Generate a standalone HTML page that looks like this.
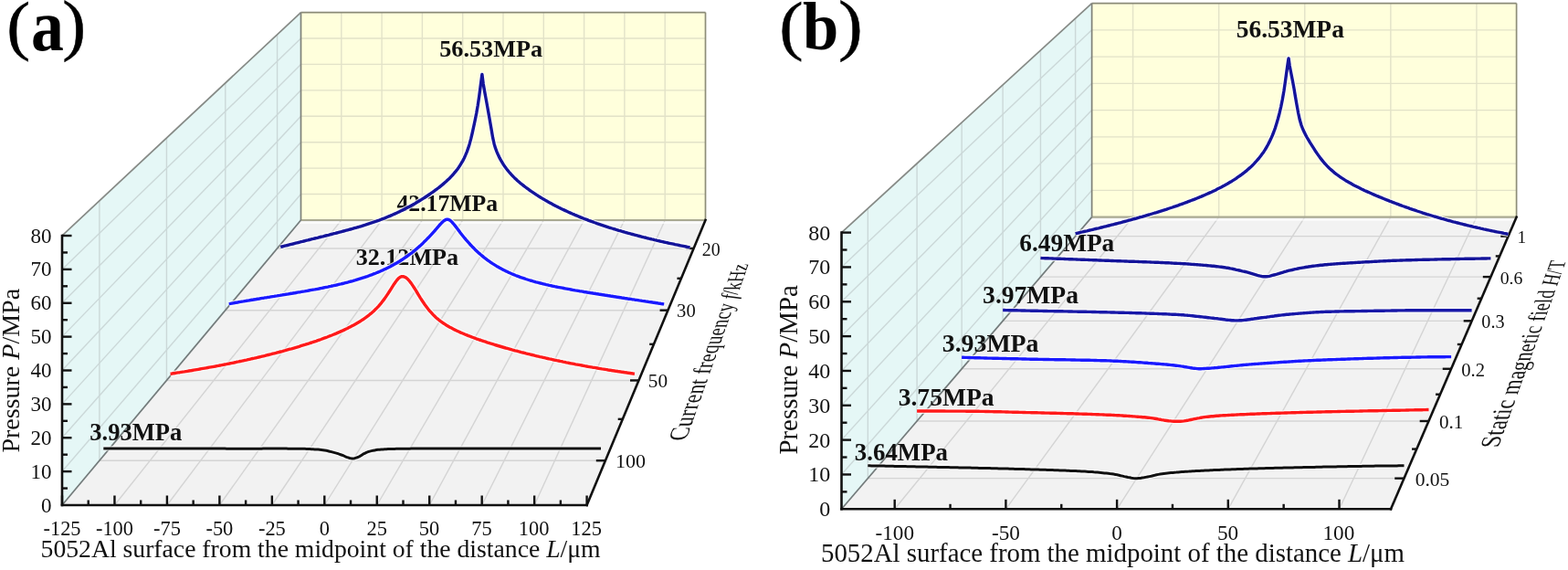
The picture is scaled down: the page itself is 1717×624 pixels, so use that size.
<!DOCTYPE html>
<html><head><meta charset="utf-8"><style>
html,body{margin:0;padding:0;background:#fff;}
svg{display:block;}
text{font-family:"Liberation Serif","Times New Roman",serif;}
</style></head><body>
<svg width="1717" height="624" viewBox="0 0 1717 624">
<rect width="1717" height="624" fill="#fff"/>
<polygon points="68,553 642.6,553 772.5,241 329.5,241" fill="#f2f2f2"/>
<polygon points="68,553 68,258 329.5,13.56 329.5,241" fill="#e5f7f6"/>
<polygon points="329.5,241 772.5,241 772.5,13.56 329.5,13.56" fill="#ffffdc"/>
<line x1="125.46" y1="553" x2="373.8" y2="241" stroke="#d4d4d4" stroke-width="1.4"/>
<line x1="373.8" y1="241" x2="373.8" y2="13.56" stroke="#e2e2c8" stroke-width="1.4"/>
<line x1="182.92" y1="553" x2="418.1" y2="241" stroke="#d4d4d4" stroke-width="1.4"/>
<line x1="418.1" y1="241" x2="418.1" y2="13.56" stroke="#e2e2c8" stroke-width="1.4"/>
<line x1="240.38" y1="553" x2="462.4" y2="241" stroke="#d4d4d4" stroke-width="1.4"/>
<line x1="462.4" y1="241" x2="462.4" y2="13.56" stroke="#e2e2c8" stroke-width="1.4"/>
<line x1="297.84" y1="553" x2="506.7" y2="241" stroke="#d4d4d4" stroke-width="1.4"/>
<line x1="506.7" y1="241" x2="506.7" y2="13.56" stroke="#e2e2c8" stroke-width="1.4"/>
<line x1="355.3" y1="553" x2="551" y2="241" stroke="#d4d4d4" stroke-width="1.4"/>
<line x1="551" y1="241" x2="551" y2="13.56" stroke="#e2e2c8" stroke-width="1.4"/>
<line x1="412.76" y1="553" x2="595.3" y2="241" stroke="#d4d4d4" stroke-width="1.4"/>
<line x1="595.3" y1="241" x2="595.3" y2="13.56" stroke="#e2e2c8" stroke-width="1.4"/>
<line x1="470.22" y1="553" x2="639.6" y2="241" stroke="#d4d4d4" stroke-width="1.4"/>
<line x1="639.6" y1="241" x2="639.6" y2="13.56" stroke="#e2e2c8" stroke-width="1.4"/>
<line x1="527.68" y1="553" x2="683.9" y2="241" stroke="#d4d4d4" stroke-width="1.4"/>
<line x1="683.9" y1="241" x2="683.9" y2="13.56" stroke="#e2e2c8" stroke-width="1.4"/>
<line x1="585.14" y1="553" x2="728.2" y2="241" stroke="#d4d4d4" stroke-width="1.4"/>
<line x1="728.2" y1="241" x2="728.2" y2="13.56" stroke="#e2e2c8" stroke-width="1.4"/>
<line x1="108.88" y1="504.23" x2="662.91" y2="504.23" stroke="#d4d4d4" stroke-width="1.4"/>
<line x1="108.88" y1="504.23" x2="108.88" y2="219.79" stroke="#cbd8d8" stroke-width="1.4"/>
<line x1="182.44" y1="416.45" x2="699.45" y2="416.45" stroke="#d4d4d4" stroke-width="1.4"/>
<line x1="182.44" y1="416.45" x2="182.44" y2="151.02" stroke="#cbd8d8" stroke-width="1.4"/>
<line x1="246.79" y1="339.68" x2="731.42" y2="339.68" stroke="#d4d4d4" stroke-width="1.4"/>
<line x1="246.79" y1="339.68" x2="246.79" y2="90.87" stroke="#cbd8d8" stroke-width="1.4"/>
<line x1="303.56" y1="271.95" x2="759.61" y2="271.95" stroke="#d4d4d4" stroke-width="1.4"/>
<line x1="303.56" y1="271.95" x2="303.56" y2="37.81" stroke="#cbd8d8" stroke-width="1.4"/>
<line x1="68" y1="516.13" x2="329.5" y2="212.57" stroke="#cbd8d8" stroke-width="1.4"/>
<line x1="329.5" y1="212.57" x2="772.5" y2="212.57" stroke="#e2e2c8" stroke-width="1.4"/>
<line x1="68" y1="479.25" x2="329.5" y2="184.14" stroke="#cbd8d8" stroke-width="1.4"/>
<line x1="329.5" y1="184.14" x2="772.5" y2="184.14" stroke="#e2e2c8" stroke-width="1.4"/>
<line x1="68" y1="442.38" x2="329.5" y2="155.71" stroke="#cbd8d8" stroke-width="1.4"/>
<line x1="329.5" y1="155.71" x2="772.5" y2="155.71" stroke="#e2e2c8" stroke-width="1.4"/>
<line x1="68" y1="405.5" x2="329.5" y2="127.28" stroke="#cbd8d8" stroke-width="1.4"/>
<line x1="329.5" y1="127.28" x2="772.5" y2="127.28" stroke="#e2e2c8" stroke-width="1.4"/>
<line x1="68" y1="368.63" x2="329.5" y2="98.85" stroke="#cbd8d8" stroke-width="1.4"/>
<line x1="329.5" y1="98.85" x2="772.5" y2="98.85" stroke="#e2e2c8" stroke-width="1.4"/>
<line x1="68" y1="331.75" x2="329.5" y2="70.42" stroke="#cbd8d8" stroke-width="1.4"/>
<line x1="329.5" y1="70.42" x2="772.5" y2="70.42" stroke="#e2e2c8" stroke-width="1.4"/>
<line x1="68" y1="294.88" x2="329.5" y2="41.99" stroke="#cbd8d8" stroke-width="1.4"/>
<line x1="329.5" y1="41.99" x2="772.5" y2="41.99" stroke="#e2e2c8" stroke-width="1.4"/>
<line x1="326.98" y1="244.01" x2="771.25" y2="244.01" stroke="#ffffff" stroke-width="2.2" stroke-opacity="0.7"/>
<line x1="68" y1="258" x2="329.5" y2="13.56" stroke="#868a86" stroke-width="1.7"/>
<line x1="329.5" y1="13.56" x2="772.5" y2="13.56" stroke="#8a8a78" stroke-width="1.7"/>
<line x1="772.5" y1="13.56" x2="772.5" y2="241" stroke="#8e8e78" stroke-width="1.7"/>
<line x1="329.5" y1="241" x2="772.5" y2="241" stroke="#aaaa92" stroke-width="2.2"/>
<line x1="329.5" y1="241" x2="329.5" y2="13.56" stroke="#7e8078" stroke-width="1.7"/>
<line x1="68" y1="553" x2="329.5" y2="241" stroke="#737b7b" stroke-width="1.7"/>
<line x1="68" y1="553" x2="642.6" y2="553" stroke="#111111" stroke-width="2.6" stroke-linecap="square"/>
<line x1="68" y1="553" x2="68" y2="258" stroke="#111111" stroke-width="2.6" stroke-linecap="square"/>
<line x1="642.6" y1="553" x2="772.5" y2="241" stroke="#111111" stroke-width="2.6" stroke-linecap="square"/>
<line x1="68" y1="534.56" x2="74" y2="534.56" stroke="#111111" stroke-width="2.4"/>
<line x1="68" y1="516.12" x2="78.5" y2="516.12" stroke="#111111" stroke-width="2.4"/>
<line x1="68" y1="497.69" x2="74" y2="497.69" stroke="#111111" stroke-width="2.4"/>
<line x1="68" y1="479.25" x2="78.5" y2="479.25" stroke="#111111" stroke-width="2.4"/>
<line x1="68" y1="460.81" x2="74" y2="460.81" stroke="#111111" stroke-width="2.4"/>
<line x1="68" y1="442.38" x2="78.5" y2="442.38" stroke="#111111" stroke-width="2.4"/>
<line x1="68" y1="423.94" x2="74" y2="423.94" stroke="#111111" stroke-width="2.4"/>
<line x1="68" y1="405.5" x2="78.5" y2="405.5" stroke="#111111" stroke-width="2.4"/>
<line x1="68" y1="387.06" x2="74" y2="387.06" stroke="#111111" stroke-width="2.4"/>
<line x1="68" y1="368.62" x2="78.5" y2="368.62" stroke="#111111" stroke-width="2.4"/>
<line x1="68" y1="350.19" x2="74" y2="350.19" stroke="#111111" stroke-width="2.4"/>
<line x1="68" y1="331.75" x2="78.5" y2="331.75" stroke="#111111" stroke-width="2.4"/>
<line x1="68" y1="313.31" x2="74" y2="313.31" stroke="#111111" stroke-width="2.4"/>
<line x1="68" y1="294.88" x2="78.5" y2="294.88" stroke="#111111" stroke-width="2.4"/>
<line x1="68" y1="276.44" x2="74" y2="276.44" stroke="#111111" stroke-width="2.4"/>
<line x1="68" y1="258" x2="78.5" y2="258" stroke="#111111" stroke-width="2.4"/>
<line x1="68" y1="553" x2="68" y2="542.5" stroke="#111111" stroke-width="2.4"/>
<line x1="125.46" y1="553" x2="125.46" y2="542.5" stroke="#111111" stroke-width="2.4"/>
<line x1="182.92" y1="553" x2="182.92" y2="542.5" stroke="#111111" stroke-width="2.4"/>
<line x1="240.38" y1="553" x2="240.38" y2="542.5" stroke="#111111" stroke-width="2.4"/>
<line x1="297.84" y1="553" x2="297.84" y2="542.5" stroke="#111111" stroke-width="2.4"/>
<line x1="355.3" y1="553" x2="355.3" y2="542.5" stroke="#111111" stroke-width="2.4"/>
<line x1="412.76" y1="553" x2="412.76" y2="542.5" stroke="#111111" stroke-width="2.4"/>
<line x1="470.22" y1="553" x2="470.22" y2="542.5" stroke="#111111" stroke-width="2.4"/>
<line x1="527.68" y1="553" x2="527.68" y2="542.5" stroke="#111111" stroke-width="2.4"/>
<line x1="585.14" y1="553" x2="585.14" y2="542.5" stroke="#111111" stroke-width="2.4"/>
<line x1="642.6" y1="553" x2="642.6" y2="542.5" stroke="#111111" stroke-width="2.4"/>
<line x1="96.73" y1="553" x2="96.73" y2="547.5" stroke="#111111" stroke-width="2.4"/>
<line x1="154.19" y1="553" x2="154.19" y2="547.5" stroke="#111111" stroke-width="2.4"/>
<line x1="211.65" y1="553" x2="211.65" y2="547.5" stroke="#111111" stroke-width="2.4"/>
<line x1="269.11" y1="553" x2="269.11" y2="547.5" stroke="#111111" stroke-width="2.4"/>
<line x1="326.57" y1="553" x2="326.57" y2="547.5" stroke="#111111" stroke-width="2.4"/>
<line x1="384.03" y1="553" x2="384.03" y2="547.5" stroke="#111111" stroke-width="2.4"/>
<line x1="441.49" y1="553" x2="441.49" y2="547.5" stroke="#111111" stroke-width="2.4"/>
<line x1="498.95" y1="553" x2="498.95" y2="547.5" stroke="#111111" stroke-width="2.4"/>
<line x1="556.41" y1="553" x2="556.41" y2="547.5" stroke="#111111" stroke-width="2.4"/>
<line x1="613.87" y1="553" x2="613.87" y2="547.5" stroke="#111111" stroke-width="2.4"/>
<line x1="662.91" y1="504.23" x2="652.78" y2="504.23" stroke="#111111" stroke-width="2.4"/>
<line x1="699.45" y1="416.45" x2="690" y2="416.45" stroke="#111111" stroke-width="2.4"/>
<line x1="731.42" y1="339.68" x2="722.56" y2="339.68" stroke="#111111" stroke-width="2.4"/>
<line x1="759.61" y1="271.95" x2="751.28" y2="271.95" stroke="#111111" stroke-width="2.4"/>
<line x1="681.81" y1="458.82" x2="676.69" y2="458.82" stroke="#111111" stroke-width="2.4"/>
<line x1="715.95" y1="376.83" x2="711.16" y2="376.83" stroke="#111111" stroke-width="2.4"/>
<line x1="745.94" y1="304.79" x2="741.44" y2="304.79" stroke="#111111" stroke-width="2.4"/>
<text x="45.02" y="560.59" font-size="23" fill="#111111">0</text>
<text x="33.52" y="523.72" font-size="23" fill="#111111">10</text>
<text x="33.52" y="486.84" font-size="23" fill="#111111">20</text>
<text x="33.52" y="449.96" font-size="23" fill="#111111">30</text>
<text x="33.52" y="413.09" font-size="23" fill="#111111">40</text>
<text x="33.52" y="376.21" font-size="23" fill="#111111">50</text>
<text x="33.52" y="339.34" font-size="23" fill="#111111">60</text>
<text x="33.52" y="302.46" font-size="23" fill="#111111">70</text>
<text x="33.52" y="265.59" font-size="23" fill="#111111">80</text>
<text x="47.5" y="586" font-size="22.4" fill="#111111">-125</text>
<text x="104.96" y="586" font-size="22.4" fill="#111111">-100</text>
<text x="168.02" y="586" font-size="22.4" fill="#111111">-75</text>
<text x="225.48" y="586" font-size="22.4" fill="#111111">-50</text>
<text x="282.94" y="586" font-size="22.4" fill="#111111">-25</text>
<text x="349.7" y="586" font-size="22.4" fill="#111111">0</text>
<text x="401.5" y="586" font-size="22.4" fill="#111111">25</text>
<text x="458.8" y="586" font-size="22.4" fill="#111111">50</text>
<text x="516.2" y="586" font-size="22.4" fill="#111111">75</text>
<text x="567.78" y="586" font-size="22.4" fill="#111111">100</text>
<text x="625.24" y="586" font-size="22.4" fill="#111111">125</text>
<text x="674" y="512.48" font-size="22" fill="#111111">100</text>
<text x="709.8" y="424.47" font-size="21.25" fill="#111111">50</text>
<text x="741.11" y="347.47" font-size="20.57" fill="#111111">30</text>
<text x="768.74" y="279.54" font-size="19.96" fill="#111111">20</text>
<text x="481.25" y="62.4" font-size="26.21" font-weight="bold" fill="#111111">56.53MPa</text>
<text x="434.41" y="230.5" font-size="25.73" font-weight="bold" fill="#111111">42.17MPa</text>
<text x="389.65" y="290.1" font-size="26.14" font-weight="bold" fill="#111111">32.12MPa</text>
<text x="98.34" y="482.4" font-size="26.56" font-weight="bold" fill="#111111">3.93MPa</text>
<path d="M307.2,270.4 308.7,270.0 310.2,269.6 311.7,269.2 313.2,268.8 314.7,268.5 316.2,268.1 317.7,267.7 319.2,267.3 320.7,267.0 322.2,266.6 323.7,266.2 325.2,265.8 326.7,265.5 328.2,265.1 329.7,264.7 331.2,264.4 332.7,264.0 334.2,263.6 335.7,263.2 337.2,262.9 338.7,262.5 340.2,262.1 341.7,261.7 343.2,261.4 344.7,261.0 346.2,260.6 347.7,260.3 349.2,259.9 350.7,259.5 352.2,259.1 353.7,258.8 355.2,258.4 356.7,258.0 358.2,257.6 359.7,257.3 361.2,256.9 362.7,256.5 364.2,256.1 365.7,255.7 367.2,255.4 368.7,255.0 370.2,254.6 371.7,254.2 373.2,253.8 374.7,253.4 376.2,253.0 377.7,252.6 379.2,252.2 380.7,251.8 382.2,251.4 383.7,251.0 385.2,250.6 386.7,250.2 388.2,249.7 389.7,249.3 391.2,248.9 392.7,248.5 394.2,248.0 395.7,247.6 397.2,247.1 398.7,246.6 400.2,246.2 401.7,245.7 403.2,245.2 404.7,244.7 406.2,244.2 407.7,243.7 409.2,243.2 410.7,242.7 412.2,242.2 413.7,241.6 415.2,241.1 416.7,240.5 418.2,239.9 419.7,239.3 421.2,238.8 422.7,238.2 424.2,237.5 425.7,236.9 427.2,236.3 428.7,235.7 430.2,235.0 431.7,234.3 433.2,233.7 434.7,233.0 436.2,232.3 437.7,231.6 439.2,230.8 440.7,230.1 442.2,229.4 443.7,228.6 445.2,227.8 446.7,227.0 448.2,226.2 449.7,225.4 451.2,224.6 452.7,223.7 454.2,222.9 455.7,222.0 457.2,221.1 458.7,220.2 460.2,219.3 461.7,218.4 463.2,217.4 464.7,216.5 466.2,215.5 467.7,214.5 469.2,213.5 470.7,212.5 472.2,211.4 473.7,210.4 475.2,209.3 476.7,208.2 478.2,207.1 479.7,206.0 481.2,204.8 482.7,203.6 484.2,202.4 485.7,201.1 487.2,199.8 488.7,198.5 490.2,197.1 491.7,195.7 493.2,194.2 494.7,192.6 496.2,191.0 497.7,189.2 499.2,187.4 500.7,185.5 502.2,183.4 503.7,181.1 505.2,178.7 506.7,176.1 508.2,173.2 509.7,169.9 511.2,166.3 512.7,162.2 514.2,157.4 515.7,151.9 517.2,145.5 518.7,138.6 520.2,131.6 521.7,124.1 523.2,115.5 524.7,105.4 526.2,94.0 527.7,82.8 527.9,81.5 529.2,91.7 530.7,100.4 532.2,108.5 533.7,116.7 535.2,125.1 536.7,133.7 538.2,142.4 539.6,150.7 541.1,157.4 542.6,162.4 544.1,166.3 545.6,169.8 547.1,172.9 548.6,175.7 550.1,178.2 551.6,180.6 553.1,182.8 554.6,184.8 556.1,186.7 557.6,188.5 559.1,190.2 560.6,191.8 562.1,193.4 563.6,194.9 565.1,196.3 566.6,197.7 568.1,199.0 569.6,200.3 571.1,201.5 572.6,202.7 574.1,203.9 575.6,205.0 577.1,206.1 578.6,207.2 580.1,208.3 581.6,209.4 583.1,210.4 584.6,211.4 586.1,212.4 587.6,213.4 589.1,214.3 590.6,215.3 592.1,216.2 593.6,217.1 595.1,218.0 596.6,218.9 598.1,219.8 599.6,220.6 601.1,221.5 602.6,222.3 604.1,223.1 605.6,223.9 607.1,224.7 608.6,225.5 610.1,226.2 611.6,227.0 613.1,227.7 614.6,228.5 616.1,229.2 617.6,229.9 619.1,230.6 620.6,231.3 622.1,232.0 623.6,232.7 625.1,233.3 626.6,234.0 628.1,234.6 629.6,235.3 631.1,235.9 632.6,236.5 634.1,237.2 635.6,237.8 637.1,238.4 638.6,239.0 640.1,239.6 641.6,240.1 643.1,240.7 644.6,241.3 646.1,241.8 647.6,242.4 649.1,242.9 650.6,243.5 652.1,244.0 653.6,244.6 655.1,245.1 656.6,245.6 658.1,246.1 659.6,246.6 661.1,247.1 662.6,247.6 664.1,248.1 665.6,248.6 667.1,249.1 668.6,249.5 670.1,250.0 671.6,250.5 673.1,250.9 674.6,251.4 676.1,251.8 677.6,252.3 679.1,252.7 680.6,253.2 682.1,253.6 683.6,254.0 685.1,254.5 686.6,254.9 688.1,255.3 689.6,255.7 691.1,256.1 692.6,256.5 694.1,256.9 695.6,257.3 697.1,257.7 698.6,258.1 700.1,258.5 701.6,258.9 703.1,259.3 704.6,259.7 706.1,260.0 707.6,260.4 709.1,260.8 710.6,261.2 712.1,261.5 713.6,261.9 715.1,262.2 716.6,262.6 718.1,262.9 719.6,263.3 721.1,263.6 722.6,264.0 724.1,264.3 725.6,264.6 727.1,265.0 728.6,265.3 730.1,265.6 731.6,266.0 733.1,266.3 734.6,266.6 736.1,266.9 737.6,267.2 739.1,267.6 740.6,267.9 742.1,268.2 743.6,268.5 745.1,268.8 746.6,269.1 748.1,269.4 749.6,269.7 751.1,270.0 752.6,270.3 754.1,270.6 755.6,270.9" fill="none" stroke="#ffffff" stroke-opacity="0.75" stroke-width="5.8" stroke-linejoin="round"/>
<path d="M307.2,270.4 308.7,270.0 310.2,269.6 311.7,269.2 313.2,268.8 314.7,268.5 316.2,268.1 317.7,267.7 319.2,267.3 320.7,267.0 322.2,266.6 323.7,266.2 325.2,265.8 326.7,265.5 328.2,265.1 329.7,264.7 331.2,264.4 332.7,264.0 334.2,263.6 335.7,263.2 337.2,262.9 338.7,262.5 340.2,262.1 341.7,261.7 343.2,261.4 344.7,261.0 346.2,260.6 347.7,260.3 349.2,259.9 350.7,259.5 352.2,259.1 353.7,258.8 355.2,258.4 356.7,258.0 358.2,257.6 359.7,257.3 361.2,256.9 362.7,256.5 364.2,256.1 365.7,255.7 367.2,255.4 368.7,255.0 370.2,254.6 371.7,254.2 373.2,253.8 374.7,253.4 376.2,253.0 377.7,252.6 379.2,252.2 380.7,251.8 382.2,251.4 383.7,251.0 385.2,250.6 386.7,250.2 388.2,249.7 389.7,249.3 391.2,248.9 392.7,248.5 394.2,248.0 395.7,247.6 397.2,247.1 398.7,246.6 400.2,246.2 401.7,245.7 403.2,245.2 404.7,244.7 406.2,244.2 407.7,243.7 409.2,243.2 410.7,242.7 412.2,242.2 413.7,241.6 415.2,241.1 416.7,240.5 418.2,239.9 419.7,239.3 421.2,238.8 422.7,238.2 424.2,237.5 425.7,236.9 427.2,236.3 428.7,235.7 430.2,235.0 431.7,234.3 433.2,233.7 434.7,233.0 436.2,232.3 437.7,231.6 439.2,230.8 440.7,230.1 442.2,229.4 443.7,228.6 445.2,227.8 446.7,227.0 448.2,226.2 449.7,225.4 451.2,224.6 452.7,223.7 454.2,222.9 455.7,222.0 457.2,221.1 458.7,220.2 460.2,219.3 461.7,218.4 463.2,217.4 464.7,216.5 466.2,215.5 467.7,214.5 469.2,213.5 470.7,212.5 472.2,211.4 473.7,210.4 475.2,209.3 476.7,208.2 478.2,207.1 479.7,206.0 481.2,204.8 482.7,203.6 484.2,202.4 485.7,201.1 487.2,199.8 488.7,198.5 490.2,197.1 491.7,195.7 493.2,194.2 494.7,192.6 496.2,191.0 497.7,189.2 499.2,187.4 500.7,185.5 502.2,183.4 503.7,181.1 505.2,178.7 506.7,176.1 508.2,173.2 509.7,169.9 511.2,166.3 512.7,162.2 514.2,157.4 515.7,151.9 517.2,145.5 518.7,138.6 520.2,131.6 521.7,124.1 523.2,115.5 524.7,105.4 526.2,94.0 527.7,82.8 527.9,81.5 529.2,91.7 530.7,100.4 532.2,108.5 533.7,116.7 535.2,125.1 536.7,133.7 538.2,142.4 539.6,150.7 541.1,157.4 542.6,162.4 544.1,166.3 545.6,169.8 547.1,172.9 548.6,175.7 550.1,178.2 551.6,180.6 553.1,182.8 554.6,184.8 556.1,186.7 557.6,188.5 559.1,190.2 560.6,191.8 562.1,193.4 563.6,194.9 565.1,196.3 566.6,197.7 568.1,199.0 569.6,200.3 571.1,201.5 572.6,202.7 574.1,203.9 575.6,205.0 577.1,206.1 578.6,207.2 580.1,208.3 581.6,209.4 583.1,210.4 584.6,211.4 586.1,212.4 587.6,213.4 589.1,214.3 590.6,215.3 592.1,216.2 593.6,217.1 595.1,218.0 596.6,218.9 598.1,219.8 599.6,220.6 601.1,221.5 602.6,222.3 604.1,223.1 605.6,223.9 607.1,224.7 608.6,225.5 610.1,226.2 611.6,227.0 613.1,227.7 614.6,228.5 616.1,229.2 617.6,229.9 619.1,230.6 620.6,231.3 622.1,232.0 623.6,232.7 625.1,233.3 626.6,234.0 628.1,234.6 629.6,235.3 631.1,235.9 632.6,236.5 634.1,237.2 635.6,237.8 637.1,238.4 638.6,239.0 640.1,239.6 641.6,240.1 643.1,240.7 644.6,241.3 646.1,241.8 647.6,242.4 649.1,242.9 650.6,243.5 652.1,244.0 653.6,244.6 655.1,245.1 656.6,245.6 658.1,246.1 659.6,246.6 661.1,247.1 662.6,247.6 664.1,248.1 665.6,248.6 667.1,249.1 668.6,249.5 670.1,250.0 671.6,250.5 673.1,250.9 674.6,251.4 676.1,251.8 677.6,252.3 679.1,252.7 680.6,253.2 682.1,253.6 683.6,254.0 685.1,254.5 686.6,254.9 688.1,255.3 689.6,255.7 691.1,256.1 692.6,256.5 694.1,256.9 695.6,257.3 697.1,257.7 698.6,258.1 700.1,258.5 701.6,258.9 703.1,259.3 704.6,259.7 706.1,260.0 707.6,260.4 709.1,260.8 710.6,261.2 712.1,261.5 713.6,261.9 715.1,262.2 716.6,262.6 718.1,262.9 719.6,263.3 721.1,263.6 722.6,264.0 724.1,264.3 725.6,264.6 727.1,265.0 728.6,265.3 730.1,265.6 731.6,266.0 733.1,266.3 734.6,266.6 736.1,266.9 737.6,267.2 739.1,267.6 740.6,267.9 742.1,268.2 743.6,268.5 745.1,268.8 746.6,269.1 748.1,269.4 749.6,269.7 751.1,270.0 752.6,270.3 754.1,270.6 755.6,270.9" fill="none" stroke="#14149a" stroke-width="3.4" stroke-linejoin="round"/>
<path d="M250.7,332.6 252.3,332.4 253.9,332.1 255.5,331.8 257.0,331.5 258.6,331.2 260.2,331.0 261.8,330.7 263.4,330.4 265.0,330.1 266.6,329.9 268.2,329.6 269.8,329.3 271.4,329.1 273.0,328.8 274.6,328.5 276.2,328.3 277.8,328.0 279.4,327.8 280.9,327.5 282.5,327.2 284.1,327.0 285.7,326.7 287.3,326.4 288.9,326.2 290.5,325.9 292.1,325.7 293.7,325.4 295.3,325.2 296.9,324.9 298.5,324.6 300.1,324.4 301.7,324.1 303.3,323.9 304.9,323.6 306.4,323.4 308.0,323.1 309.6,322.8 311.2,322.6 312.8,322.3 314.4,322.1 316.0,321.8 317.6,321.5 319.2,321.3 320.8,321.0 322.4,320.8 324.0,320.5 325.6,320.2 327.2,319.9 328.8,319.7 330.3,319.4 331.9,319.1 333.5,318.9 335.1,318.6 336.7,318.3 338.3,318.0 339.9,317.7 341.5,317.4 343.1,317.1 344.7,316.9 346.3,316.6 347.9,316.3 349.5,316.0 351.1,315.6 352.7,315.3 354.3,315.0 355.8,314.7 357.4,314.4 359.0,314.1 360.6,313.7 362.2,313.4 363.8,313.0 365.4,312.7 367.0,312.3 368.6,312.0 370.2,311.6 371.8,311.2 373.4,310.9 375.0,310.5 376.6,310.1 378.2,309.7 379.8,309.3 381.3,308.9 382.9,308.4 384.5,308.0 386.1,307.6 387.7,307.1 389.3,306.7 390.9,306.2 392.5,305.7 394.1,305.2 395.7,304.7 397.3,304.2 398.9,303.7 400.5,303.1 402.1,302.6 403.7,302.0 405.2,301.4 406.8,300.9 408.4,300.2 410.0,299.6 411.6,299.0 413.2,298.3 414.8,297.7 416.4,297.0 418.0,296.3 419.6,295.6 421.2,294.8 422.8,294.1 424.4,293.3 426.0,292.5 427.6,291.7 429.2,290.8 430.7,290.0 432.3,289.1 433.9,288.2 435.5,287.2 437.1,286.3 438.7,285.3 440.3,284.3 441.9,283.2 443.5,282.1 445.1,281.0 446.7,279.9 448.3,278.7 449.9,277.5 451.5,276.3 453.1,275.0 454.6,273.7 456.2,272.4 457.8,271.0 459.4,269.6 461.0,268.2 462.6,266.7 464.2,265.1 465.8,263.6 467.4,261.9 469.0,260.3 470.6,258.6 472.2,256.9 473.8,255.1 475.4,253.3 477.0,251.5 478.6,249.6 480.1,247.8 481.7,246.0 483.3,244.3 484.9,242.7 486.5,241.4 488.1,240.5 489.7,240.1 489.9,240.1 491.3,240.4 492.9,241.3 494.5,242.7 496.1,244.5 497.7,246.4 499.3,248.4 500.9,250.5 502.5,252.6 504.0,254.7 505.6,256.7 507.2,258.7 508.8,260.7 510.4,262.6 512.0,264.4 513.6,266.2 515.2,268.0 516.8,269.7 518.4,271.3 520.0,272.9 521.6,274.4 523.2,275.9 524.8,277.4 526.4,278.8 528.0,280.1 529.5,281.4 531.1,282.7 532.7,283.9 534.3,285.1 535.9,286.2 537.5,287.3 539.1,288.4 540.7,289.4 542.3,290.4 543.9,291.4 545.5,292.3 547.1,293.2 548.7,294.1 550.3,294.9 551.9,295.8 553.5,296.6 555.0,297.3 556.6,298.1 558.2,298.8 559.8,299.5 561.4,300.2 563.0,300.8 564.6,301.5 566.2,302.1 567.8,302.7 569.4,303.3 571.0,303.9 572.6,304.4 574.2,304.9 575.8,305.5 577.4,306.0 578.9,306.5 580.5,307.0 582.1,307.4 583.7,307.9 585.3,308.3 586.9,308.8 588.5,309.2 590.1,309.6 591.7,310.0 593.3,310.4 594.9,310.8 596.5,311.2 598.1,311.6 599.7,311.9 601.3,312.3 602.9,312.6 604.4,313.0 606.0,313.3 607.6,313.7 609.2,314.0 610.8,314.3 612.4,314.6 614.0,314.9 615.6,315.2 617.2,315.5 618.8,315.8 620.4,316.1 622.0,316.4 623.6,316.7 625.2,317.0 626.8,317.3 628.3,317.6 629.9,317.9 631.5,318.1 633.1,318.4 634.7,318.7 636.3,318.9 637.9,319.2 639.5,319.5 641.1,319.7 642.7,320.0 644.3,320.3 645.9,320.5 647.5,320.8 649.1,321.0 650.7,321.3 652.3,321.5 653.8,321.8 655.4,322.0 657.0,322.3 658.6,322.5 660.2,322.8 661.8,323.0 663.4,323.3 665.0,323.5 666.6,323.8 668.2,324.0 669.8,324.3 671.4,324.5 673.0,324.8 674.6,325.0 676.2,325.3 677.7,325.5 679.3,325.7 680.9,326.0 682.5,326.2 684.1,326.5 685.7,326.7 687.3,327.0 688.9,327.2 690.5,327.4 692.1,327.7 693.7,327.9 695.3,328.2 696.9,328.4 698.5,328.6 700.1,328.9 701.7,329.1 703.2,329.4 704.8,329.6 706.4,329.8 708.0,330.1 709.6,330.3 711.2,330.6 712.8,330.8 714.4,331.0 716.0,331.3 717.6,331.5 719.2,331.7 720.8,332.0 722.4,332.2 724.0,332.5 725.6,332.7 727.2,332.9" fill="none" stroke="#ffffff" stroke-opacity="0.75" stroke-width="5.8" stroke-linejoin="round"/>
<path d="M250.7,332.6 252.3,332.4 253.9,332.1 255.5,331.8 257.0,331.5 258.6,331.2 260.2,331.0 261.8,330.7 263.4,330.4 265.0,330.1 266.6,329.9 268.2,329.6 269.8,329.3 271.4,329.1 273.0,328.8 274.6,328.5 276.2,328.3 277.8,328.0 279.4,327.8 280.9,327.5 282.5,327.2 284.1,327.0 285.7,326.7 287.3,326.4 288.9,326.2 290.5,325.9 292.1,325.7 293.7,325.4 295.3,325.2 296.9,324.9 298.5,324.6 300.1,324.4 301.7,324.1 303.3,323.9 304.9,323.6 306.4,323.4 308.0,323.1 309.6,322.8 311.2,322.6 312.8,322.3 314.4,322.1 316.0,321.8 317.6,321.5 319.2,321.3 320.8,321.0 322.4,320.8 324.0,320.5 325.6,320.2 327.2,319.9 328.8,319.7 330.3,319.4 331.9,319.1 333.5,318.9 335.1,318.6 336.7,318.3 338.3,318.0 339.9,317.7 341.5,317.4 343.1,317.1 344.7,316.9 346.3,316.6 347.9,316.3 349.5,316.0 351.1,315.6 352.7,315.3 354.3,315.0 355.8,314.7 357.4,314.4 359.0,314.1 360.6,313.7 362.2,313.4 363.8,313.0 365.4,312.7 367.0,312.3 368.6,312.0 370.2,311.6 371.8,311.2 373.4,310.9 375.0,310.5 376.6,310.1 378.2,309.7 379.8,309.3 381.3,308.9 382.9,308.4 384.5,308.0 386.1,307.6 387.7,307.1 389.3,306.7 390.9,306.2 392.5,305.7 394.1,305.2 395.7,304.7 397.3,304.2 398.9,303.7 400.5,303.1 402.1,302.6 403.7,302.0 405.2,301.4 406.8,300.9 408.4,300.2 410.0,299.6 411.6,299.0 413.2,298.3 414.8,297.7 416.4,297.0 418.0,296.3 419.6,295.6 421.2,294.8 422.8,294.1 424.4,293.3 426.0,292.5 427.6,291.7 429.2,290.8 430.7,290.0 432.3,289.1 433.9,288.2 435.5,287.2 437.1,286.3 438.7,285.3 440.3,284.3 441.9,283.2 443.5,282.1 445.1,281.0 446.7,279.9 448.3,278.7 449.9,277.5 451.5,276.3 453.1,275.0 454.6,273.7 456.2,272.4 457.8,271.0 459.4,269.6 461.0,268.2 462.6,266.7 464.2,265.1 465.8,263.6 467.4,261.9 469.0,260.3 470.6,258.6 472.2,256.9 473.8,255.1 475.4,253.3 477.0,251.5 478.6,249.6 480.1,247.8 481.7,246.0 483.3,244.3 484.9,242.7 486.5,241.4 488.1,240.5 489.7,240.1 489.9,240.1 491.3,240.4 492.9,241.3 494.5,242.7 496.1,244.5 497.7,246.4 499.3,248.4 500.9,250.5 502.5,252.6 504.0,254.7 505.6,256.7 507.2,258.7 508.8,260.7 510.4,262.6 512.0,264.4 513.6,266.2 515.2,268.0 516.8,269.7 518.4,271.3 520.0,272.9 521.6,274.4 523.2,275.9 524.8,277.4 526.4,278.8 528.0,280.1 529.5,281.4 531.1,282.7 532.7,283.9 534.3,285.1 535.9,286.2 537.5,287.3 539.1,288.4 540.7,289.4 542.3,290.4 543.9,291.4 545.5,292.3 547.1,293.2 548.7,294.1 550.3,294.9 551.9,295.8 553.5,296.6 555.0,297.3 556.6,298.1 558.2,298.8 559.8,299.5 561.4,300.2 563.0,300.8 564.6,301.5 566.2,302.1 567.8,302.7 569.4,303.3 571.0,303.9 572.6,304.4 574.2,304.9 575.8,305.5 577.4,306.0 578.9,306.5 580.5,307.0 582.1,307.4 583.7,307.9 585.3,308.3 586.9,308.8 588.5,309.2 590.1,309.6 591.7,310.0 593.3,310.4 594.9,310.8 596.5,311.2 598.1,311.6 599.7,311.9 601.3,312.3 602.9,312.6 604.4,313.0 606.0,313.3 607.6,313.7 609.2,314.0 610.8,314.3 612.4,314.6 614.0,314.9 615.6,315.2 617.2,315.5 618.8,315.8 620.4,316.1 622.0,316.4 623.6,316.7 625.2,317.0 626.8,317.3 628.3,317.6 629.9,317.9 631.5,318.1 633.1,318.4 634.7,318.7 636.3,318.9 637.9,319.2 639.5,319.5 641.1,319.7 642.7,320.0 644.3,320.3 645.9,320.5 647.5,320.8 649.1,321.0 650.7,321.3 652.3,321.5 653.8,321.8 655.4,322.0 657.0,322.3 658.6,322.5 660.2,322.8 661.8,323.0 663.4,323.3 665.0,323.5 666.6,323.8 668.2,324.0 669.8,324.3 671.4,324.5 673.0,324.8 674.6,325.0 676.2,325.3 677.7,325.5 679.3,325.7 680.9,326.0 682.5,326.2 684.1,326.5 685.7,326.7 687.3,327.0 688.9,327.2 690.5,327.4 692.1,327.7 693.7,327.9 695.3,328.2 696.9,328.4 698.5,328.6 700.1,328.9 701.7,329.1 703.2,329.4 704.8,329.6 706.4,329.8 708.0,330.1 709.6,330.3 711.2,330.6 712.8,330.8 714.4,331.0 716.0,331.3 717.6,331.5 719.2,331.7 720.8,332.0 722.4,332.2 724.0,332.5 725.6,332.7 727.2,332.9" fill="none" stroke="#1a1aff" stroke-width="3.4" stroke-linejoin="round"/>
<path d="M186.6,409.2 188.3,409.0 190.0,408.7 191.7,408.5 193.4,408.2 195.1,407.9 196.8,407.7 198.5,407.4 200.2,407.1 201.9,406.9 203.6,406.6 205.3,406.3 207.0,406.0 208.7,405.8 210.4,405.5 212.1,405.2 213.8,404.9 215.5,404.6 217.2,404.3 218.9,404.0 220.6,403.7 222.3,403.4 224.0,403.1 225.7,402.8 227.4,402.5 229.1,402.2 230.8,401.9 232.5,401.6 234.2,401.3 235.9,401.0 237.6,400.6 239.3,400.3 241.0,400.0 242.7,399.7 244.4,399.3 246.1,399.0 247.8,398.7 249.5,398.3 251.2,398.0 252.9,397.6 254.6,397.3 256.3,397.0 258.0,396.6 259.7,396.2 261.4,395.9 263.1,395.5 264.8,395.2 266.5,394.8 268.2,394.4 269.9,394.1 271.6,393.7 273.3,393.3 275.0,392.9 276.7,392.5 278.4,392.2 280.1,391.8 281.8,391.4 283.5,391.0 285.2,390.6 286.9,390.2 288.6,389.8 290.3,389.4 292.0,388.9 293.7,388.5 295.4,388.1 297.1,387.7 298.8,387.2 300.5,386.8 302.2,386.4 303.9,385.9 305.6,385.5 307.3,385.0 309.0,384.6 310.7,384.1 312.4,383.7 314.1,383.2 315.8,382.7 317.5,382.2 319.2,381.8 320.9,381.3 322.6,380.8 324.3,380.3 326.0,379.8 327.7,379.3 329.4,378.7 331.1,378.2 332.8,377.7 334.5,377.2 336.2,376.6 337.9,376.1 339.6,375.5 341.3,375.0 343.0,374.4 344.7,373.8 346.4,373.3 348.1,372.7 349.8,372.1 351.5,371.5 353.2,370.8 354.9,370.2 356.6,369.6 358.3,369.0 360.0,368.3 361.7,367.6 363.4,367.0 365.1,366.3 366.8,365.6 368.5,364.9 370.2,364.1 371.9,363.4 373.6,362.6 375.3,361.9 377.0,361.1 378.7,360.3 380.4,359.5 382.1,358.6 383.8,357.7 385.5,356.8 387.2,355.9 388.9,355.0 390.6,354.0 392.3,353.0 394.0,352.0 395.7,350.9 397.4,349.8 399.1,348.6 400.8,347.4 402.5,346.1 404.2,344.8 405.9,343.4 407.6,341.9 409.3,340.4 411.0,338.8 412.7,337.1 414.4,335.3 416.1,333.3 417.8,331.3 419.5,329.1 421.2,326.9 422.9,324.4 424.6,321.9 426.3,319.3 428.0,316.6 429.7,313.9 431.4,311.2 433.1,308.7 434.8,306.5 436.5,304.6 438.2,303.3 439.9,302.7 440.6,302.6 441.6,302.7 443.3,303.3 445.0,304.3 446.7,305.8 448.4,307.7 450.1,309.9 451.8,312.4 453.5,315.0 455.2,317.7 456.9,320.5 458.6,323.3 460.3,326.1 462.0,328.7 463.7,331.3 465.4,333.8 467.1,336.1 468.8,338.3 470.5,340.3 472.2,342.2 473.9,344.1 475.6,345.8 477.3,347.4 479.0,348.9 480.7,350.3 482.4,351.6 484.1,352.8 485.8,354.0 487.5,355.1 489.2,356.2 490.9,357.2 492.6,358.2 494.3,359.1 496.0,360.0 497.7,360.9 499.4,361.7 501.1,362.5 502.8,363.3 504.5,364.1 506.2,364.8 507.9,365.5 509.6,366.2 511.3,366.9 513.0,367.6 514.7,368.2 516.4,368.9 518.1,369.5 519.8,370.1 521.5,370.8 523.2,371.4 524.9,372.0 526.6,372.5 528.3,373.1 530.0,373.7 531.7,374.2 533.4,374.8 535.1,375.3 536.8,375.9 538.5,376.4 540.2,376.9 541.9,377.5 543.6,378.0 545.3,378.5 547.0,379.0 548.7,379.5 550.4,380.0 552.1,380.5 553.8,381.0 555.5,381.4 557.2,381.9 558.9,382.4 560.6,382.9 562.3,383.3 564.0,383.8 565.7,384.2 567.4,384.7 569.1,385.1 570.8,385.6 572.5,386.0 574.2,386.4 575.9,386.9 577.6,387.3 579.3,387.7 581.0,388.1 582.7,388.5 584.4,388.9 586.1,389.4 587.8,389.8 589.5,390.2 591.2,390.6 592.9,390.9 594.6,391.3 596.3,391.7 598.0,392.1 599.7,392.5 601.4,392.9 603.1,393.2 604.8,393.6 606.5,394.0 608.2,394.3 609.9,394.7 611.6,395.0 613.3,395.4 615.0,395.7 616.7,396.1 618.4,396.4 620.1,396.8 621.8,397.1 623.5,397.5 625.2,397.8 626.9,398.1 628.6,398.4 630.3,398.8 632.0,399.1 633.7,399.4 635.4,399.7 637.1,400.0 638.8,400.3 640.5,400.7 642.2,401.0 643.9,401.3 645.6,401.6 647.3,401.9 649.0,402.2 650.7,402.4 652.4,402.7 654.1,403.0 655.8,403.3 657.5,403.6 659.2,403.9 660.9,404.1 662.6,404.4 664.3,404.7 666.0,405.0 667.7,405.2 669.4,405.5 671.1,405.8 672.8,406.0 674.5,406.3 676.2,406.5 677.9,406.8 679.6,407.0 681.3,407.3 683.0,407.5 684.7,407.8 686.4,408.0 688.1,408.3 689.8,408.5 691.5,408.7 693.2,409.0 694.9,409.2" fill="none" stroke="#ffffff" stroke-opacity="0.75" stroke-width="5.8" stroke-linejoin="round"/>
<path d="M186.6,409.2 188.3,409.0 190.0,408.7 191.7,408.5 193.4,408.2 195.1,407.9 196.8,407.7 198.5,407.4 200.2,407.1 201.9,406.9 203.6,406.6 205.3,406.3 207.0,406.0 208.7,405.8 210.4,405.5 212.1,405.2 213.8,404.9 215.5,404.6 217.2,404.3 218.9,404.0 220.6,403.7 222.3,403.4 224.0,403.1 225.7,402.8 227.4,402.5 229.1,402.2 230.8,401.9 232.5,401.6 234.2,401.3 235.9,401.0 237.6,400.6 239.3,400.3 241.0,400.0 242.7,399.7 244.4,399.3 246.1,399.0 247.8,398.7 249.5,398.3 251.2,398.0 252.9,397.6 254.6,397.3 256.3,397.0 258.0,396.6 259.7,396.2 261.4,395.9 263.1,395.5 264.8,395.2 266.5,394.8 268.2,394.4 269.9,394.1 271.6,393.7 273.3,393.3 275.0,392.9 276.7,392.5 278.4,392.2 280.1,391.8 281.8,391.4 283.5,391.0 285.2,390.6 286.9,390.2 288.6,389.8 290.3,389.4 292.0,388.9 293.7,388.5 295.4,388.1 297.1,387.7 298.8,387.2 300.5,386.8 302.2,386.4 303.9,385.9 305.6,385.5 307.3,385.0 309.0,384.6 310.7,384.1 312.4,383.7 314.1,383.2 315.8,382.7 317.5,382.2 319.2,381.8 320.9,381.3 322.6,380.8 324.3,380.3 326.0,379.8 327.7,379.3 329.4,378.7 331.1,378.2 332.8,377.7 334.5,377.2 336.2,376.6 337.9,376.1 339.6,375.5 341.3,375.0 343.0,374.4 344.7,373.8 346.4,373.3 348.1,372.7 349.8,372.1 351.5,371.5 353.2,370.8 354.9,370.2 356.6,369.6 358.3,369.0 360.0,368.3 361.7,367.6 363.4,367.0 365.1,366.3 366.8,365.6 368.5,364.9 370.2,364.1 371.9,363.4 373.6,362.6 375.3,361.9 377.0,361.1 378.7,360.3 380.4,359.5 382.1,358.6 383.8,357.7 385.5,356.8 387.2,355.9 388.9,355.0 390.6,354.0 392.3,353.0 394.0,352.0 395.7,350.9 397.4,349.8 399.1,348.6 400.8,347.4 402.5,346.1 404.2,344.8 405.9,343.4 407.6,341.9 409.3,340.4 411.0,338.8 412.7,337.1 414.4,335.3 416.1,333.3 417.8,331.3 419.5,329.1 421.2,326.9 422.9,324.4 424.6,321.9 426.3,319.3 428.0,316.6 429.7,313.9 431.4,311.2 433.1,308.7 434.8,306.5 436.5,304.6 438.2,303.3 439.9,302.7 440.6,302.6 441.6,302.7 443.3,303.3 445.0,304.3 446.7,305.8 448.4,307.7 450.1,309.9 451.8,312.4 453.5,315.0 455.2,317.7 456.9,320.5 458.6,323.3 460.3,326.1 462.0,328.7 463.7,331.3 465.4,333.8 467.1,336.1 468.8,338.3 470.5,340.3 472.2,342.2 473.9,344.1 475.6,345.8 477.3,347.4 479.0,348.9 480.7,350.3 482.4,351.6 484.1,352.8 485.8,354.0 487.5,355.1 489.2,356.2 490.9,357.2 492.6,358.2 494.3,359.1 496.0,360.0 497.7,360.9 499.4,361.7 501.1,362.5 502.8,363.3 504.5,364.1 506.2,364.8 507.9,365.5 509.6,366.2 511.3,366.9 513.0,367.6 514.7,368.2 516.4,368.9 518.1,369.5 519.8,370.1 521.5,370.8 523.2,371.4 524.9,372.0 526.6,372.5 528.3,373.1 530.0,373.7 531.7,374.2 533.4,374.8 535.1,375.3 536.8,375.9 538.5,376.4 540.2,376.9 541.9,377.5 543.6,378.0 545.3,378.5 547.0,379.0 548.7,379.5 550.4,380.0 552.1,380.5 553.8,381.0 555.5,381.4 557.2,381.9 558.9,382.4 560.6,382.9 562.3,383.3 564.0,383.8 565.7,384.2 567.4,384.7 569.1,385.1 570.8,385.6 572.5,386.0 574.2,386.4 575.9,386.9 577.6,387.3 579.3,387.7 581.0,388.1 582.7,388.5 584.4,388.9 586.1,389.4 587.8,389.8 589.5,390.2 591.2,390.6 592.9,390.9 594.6,391.3 596.3,391.7 598.0,392.1 599.7,392.5 601.4,392.9 603.1,393.2 604.8,393.6 606.5,394.0 608.2,394.3 609.9,394.7 611.6,395.0 613.3,395.4 615.0,395.7 616.7,396.1 618.4,396.4 620.1,396.8 621.8,397.1 623.5,397.5 625.2,397.8 626.9,398.1 628.6,398.4 630.3,398.8 632.0,399.1 633.7,399.4 635.4,399.7 637.1,400.0 638.8,400.3 640.5,400.7 642.2,401.0 643.9,401.3 645.6,401.6 647.3,401.9 649.0,402.2 650.7,402.4 652.4,402.7 654.1,403.0 655.8,403.3 657.5,403.6 659.2,403.9 660.9,404.1 662.6,404.4 664.3,404.7 666.0,405.0 667.7,405.2 669.4,405.5 671.1,405.8 672.8,406.0 674.5,406.3 676.2,406.5 677.9,406.8 679.6,407.0 681.3,407.3 683.0,407.5 684.7,407.8 686.4,408.0 688.1,408.3 689.8,408.5 691.5,408.7 693.2,409.0 694.9,409.2" fill="none" stroke="#ff1a1a" stroke-width="3.4" stroke-linejoin="round"/>
<path d="M113.3,490.9 115.1,490.9 117.0,490.9 118.8,490.9 120.6,490.9 122.4,490.9 124.2,490.9 126.1,490.9 127.9,490.9 129.7,490.9 131.5,490.9 133.4,490.9 135.2,490.9 137.0,490.9 138.8,490.9 140.6,490.9 142.5,490.9 144.3,490.9 146.1,490.9 147.9,490.9 149.7,490.9 151.6,490.9 153.4,490.9 155.2,490.9 157.0,490.9 158.9,490.9 160.7,490.9 162.5,490.9 164.3,490.9 166.1,490.9 168.0,491.0 169.8,491.0 171.6,491.0 173.4,491.0 175.3,491.0 177.1,491.0 178.9,491.0 180.7,491.0 182.5,491.0 184.4,491.0 186.2,491.0 188.0,491.0 189.8,491.0 191.6,491.0 193.5,491.0 195.3,491.0 197.1,491.0 198.9,491.0 200.8,491.0 202.6,491.0 204.4,491.0 206.2,491.0 208.0,491.0 209.9,491.0 211.7,491.0 213.5,491.0 215.3,491.0 217.2,491.0 219.0,491.0 220.8,491.1 222.6,491.1 224.4,491.1 226.3,491.1 228.1,491.1 229.9,491.1 231.7,491.1 233.6,491.1 235.4,491.1 237.2,491.1 239.0,491.1 240.8,491.1 242.7,491.1 244.5,491.1 246.3,491.1 248.1,491.2 249.9,491.2 251.8,491.2 253.6,491.2 255.4,491.2 257.2,491.2 259.1,491.2 260.9,491.2 262.7,491.2 264.5,491.2 266.3,491.2 268.2,491.2 270.0,491.2 271.8,491.2 273.6,491.2 275.5,491.2 277.3,491.2 279.1,491.2 280.9,491.2 282.7,491.2 284.6,491.2 286.4,491.2 288.2,491.1 290.0,491.1 291.8,491.1 293.7,491.1 295.5,491.1 297.3,491.1 299.1,491.1 301.0,491.1 302.8,491.1 304.6,491.1 306.4,491.1 308.2,491.1 310.1,491.1 311.9,491.1 313.7,491.1 315.5,491.2 317.4,491.2 319.2,491.2 321.0,491.2 322.8,491.2 324.6,491.2 326.5,491.2 328.3,491.3 330.1,491.3 331.9,491.3 333.8,491.3 335.6,491.4 337.4,491.5 339.2,491.6 341.0,491.7 342.9,491.8 344.7,491.9 346.5,492.0 348.3,492.1 350.1,492.3 352.0,492.5 353.8,492.7 355.6,493.0 357.4,493.3 359.3,493.7 361.1,494.2 362.9,494.6 364.7,495.1 366.5,495.6 368.4,496.1 370.2,496.7 372.0,497.3 373.8,498.0 375.7,498.7 377.5,499.5 379.3,500.3 381.1,500.9 382.9,501.5 384.8,501.9 386.6,502.0 388.4,501.7 390.2,501.1 392.0,500.5 393.9,499.6 395.7,498.4 397.5,497.2 399.3,496.3 401.2,495.4 403.0,494.7 404.8,494.1 406.6,493.6 408.4,493.2 410.3,492.9 412.1,492.6 413.9,492.3 415.7,492.2 417.6,492.0 419.4,491.9 421.2,491.8 423.0,491.7 424.8,491.6 426.7,491.6 428.5,491.5 430.3,491.4 432.1,491.4 433.9,491.3 435.8,491.3 437.6,491.3 439.4,491.3 441.2,491.2 443.1,491.2 444.9,491.2 446.7,491.2 448.5,491.2 450.3,491.1 452.2,491.1 454.0,491.1 455.8,491.1 457.6,491.1 459.5,491.1 461.3,491.1 463.1,491.0 464.9,491.0 466.7,491.0 468.6,491.0 470.4,491.0 472.2,491.0 474.0,491.0 475.9,491.0 477.7,491.0 479.5,491.0 481.3,491.0 483.1,491.0 485.0,491.0 486.8,491.0 488.6,491.0 490.4,491.0 492.2,491.0 494.1,491.0 495.9,491.0 497.7,491.0 499.5,491.0 501.4,491.0 503.2,491.0 505.0,491.0 506.8,491.0 508.6,491.0 510.5,491.0 512.3,491.0 514.1,491.0 515.9,491.0 517.8,491.0 519.6,491.0 521.4,491.0 523.2,491.0 525.0,491.0 526.9,491.0 528.7,491.0 530.5,491.0 532.3,491.0 534.1,491.0 536.0,491.0 537.8,491.0 539.6,491.0 541.4,491.0 543.3,491.0 545.1,491.0 546.9,491.0 548.7,491.0 550.5,491.0 552.4,491.0 554.2,491.0 556.0,491.0 557.8,491.0 559.7,491.0 561.5,491.0 563.3,491.0 565.1,491.0 566.9,491.0 568.8,491.0 570.6,491.0 572.4,491.0 574.2,491.0 576.1,491.0 577.9,491.0 579.7,491.0 581.5,491.0 583.3,491.0 585.2,491.0 587.0,491.0 588.8,491.0 590.6,491.0 592.4,491.0 594.3,491.0 596.1,491.0 597.9,491.0 599.7,491.0 601.6,491.0 603.4,491.0 605.2,491.0 607.0,491.0 608.8,491.0 610.7,491.0 612.5,491.0 614.3,491.0 616.1,491.0 618.0,491.0 619.8,491.0 621.6,491.0 623.4,491.0 625.2,491.0 627.1,491.0 628.9,491.0 630.7,491.0 632.5,491.0 634.3,491.0 636.2,491.0 638.0,491.0 639.8,491.0 641.6,491.0 643.5,491.0 645.3,491.0 647.1,491.0 648.9,491.0 650.7,491.0 652.6,491.0 654.4,491.0 656.2,491.0 658.0,491.0" fill="none" stroke="#ffffff" stroke-opacity="0.75" stroke-width="5.4" stroke-linejoin="round"/>
<path d="M113.3,490.9 115.1,490.9 117.0,490.9 118.8,490.9 120.6,490.9 122.4,490.9 124.2,490.9 126.1,490.9 127.9,490.9 129.7,490.9 131.5,490.9 133.4,490.9 135.2,490.9 137.0,490.9 138.8,490.9 140.6,490.9 142.5,490.9 144.3,490.9 146.1,490.9 147.9,490.9 149.7,490.9 151.6,490.9 153.4,490.9 155.2,490.9 157.0,490.9 158.9,490.9 160.7,490.9 162.5,490.9 164.3,490.9 166.1,490.9 168.0,491.0 169.8,491.0 171.6,491.0 173.4,491.0 175.3,491.0 177.1,491.0 178.9,491.0 180.7,491.0 182.5,491.0 184.4,491.0 186.2,491.0 188.0,491.0 189.8,491.0 191.6,491.0 193.5,491.0 195.3,491.0 197.1,491.0 198.9,491.0 200.8,491.0 202.6,491.0 204.4,491.0 206.2,491.0 208.0,491.0 209.9,491.0 211.7,491.0 213.5,491.0 215.3,491.0 217.2,491.0 219.0,491.0 220.8,491.1 222.6,491.1 224.4,491.1 226.3,491.1 228.1,491.1 229.9,491.1 231.7,491.1 233.6,491.1 235.4,491.1 237.2,491.1 239.0,491.1 240.8,491.1 242.7,491.1 244.5,491.1 246.3,491.1 248.1,491.2 249.9,491.2 251.8,491.2 253.6,491.2 255.4,491.2 257.2,491.2 259.1,491.2 260.9,491.2 262.7,491.2 264.5,491.2 266.3,491.2 268.2,491.2 270.0,491.2 271.8,491.2 273.6,491.2 275.5,491.2 277.3,491.2 279.1,491.2 280.9,491.2 282.7,491.2 284.6,491.2 286.4,491.2 288.2,491.1 290.0,491.1 291.8,491.1 293.7,491.1 295.5,491.1 297.3,491.1 299.1,491.1 301.0,491.1 302.8,491.1 304.6,491.1 306.4,491.1 308.2,491.1 310.1,491.1 311.9,491.1 313.7,491.1 315.5,491.2 317.4,491.2 319.2,491.2 321.0,491.2 322.8,491.2 324.6,491.2 326.5,491.2 328.3,491.3 330.1,491.3 331.9,491.3 333.8,491.3 335.6,491.4 337.4,491.5 339.2,491.6 341.0,491.7 342.9,491.8 344.7,491.9 346.5,492.0 348.3,492.1 350.1,492.3 352.0,492.5 353.8,492.7 355.6,493.0 357.4,493.3 359.3,493.7 361.1,494.2 362.9,494.6 364.7,495.1 366.5,495.6 368.4,496.1 370.2,496.7 372.0,497.3 373.8,498.0 375.7,498.7 377.5,499.5 379.3,500.3 381.1,500.9 382.9,501.5 384.8,501.9 386.6,502.0 388.4,501.7 390.2,501.1 392.0,500.5 393.9,499.6 395.7,498.4 397.5,497.2 399.3,496.3 401.2,495.4 403.0,494.7 404.8,494.1 406.6,493.6 408.4,493.2 410.3,492.9 412.1,492.6 413.9,492.3 415.7,492.2 417.6,492.0 419.4,491.9 421.2,491.8 423.0,491.7 424.8,491.6 426.7,491.6 428.5,491.5 430.3,491.4 432.1,491.4 433.9,491.3 435.8,491.3 437.6,491.3 439.4,491.3 441.2,491.2 443.1,491.2 444.9,491.2 446.7,491.2 448.5,491.2 450.3,491.1 452.2,491.1 454.0,491.1 455.8,491.1 457.6,491.1 459.5,491.1 461.3,491.1 463.1,491.0 464.9,491.0 466.7,491.0 468.6,491.0 470.4,491.0 472.2,491.0 474.0,491.0 475.9,491.0 477.7,491.0 479.5,491.0 481.3,491.0 483.1,491.0 485.0,491.0 486.8,491.0 488.6,491.0 490.4,491.0 492.2,491.0 494.1,491.0 495.9,491.0 497.7,491.0 499.5,491.0 501.4,491.0 503.2,491.0 505.0,491.0 506.8,491.0 508.6,491.0 510.5,491.0 512.3,491.0 514.1,491.0 515.9,491.0 517.8,491.0 519.6,491.0 521.4,491.0 523.2,491.0 525.0,491.0 526.9,491.0 528.7,491.0 530.5,491.0 532.3,491.0 534.1,491.0 536.0,491.0 537.8,491.0 539.6,491.0 541.4,491.0 543.3,491.0 545.1,491.0 546.9,491.0 548.7,491.0 550.5,491.0 552.4,491.0 554.2,491.0 556.0,491.0 557.8,491.0 559.7,491.0 561.5,491.0 563.3,491.0 565.1,491.0 566.9,491.0 568.8,491.0 570.6,491.0 572.4,491.0 574.2,491.0 576.1,491.0 577.9,491.0 579.7,491.0 581.5,491.0 583.3,491.0 585.2,491.0 587.0,491.0 588.8,491.0 590.6,491.0 592.4,491.0 594.3,491.0 596.1,491.0 597.9,491.0 599.7,491.0 601.6,491.0 603.4,491.0 605.2,491.0 607.0,491.0 608.8,491.0 610.7,491.0 612.5,491.0 614.3,491.0 616.1,491.0 618.0,491.0 619.8,491.0 621.6,491.0 623.4,491.0 625.2,491.0 627.1,491.0 628.9,491.0 630.7,491.0 632.5,491.0 634.3,491.0 636.2,491.0 638.0,491.0 639.8,491.0 641.6,491.0 643.5,491.0 645.3,491.0 647.1,491.0 648.9,491.0 650.7,491.0 652.6,491.0 654.4,491.0 656.2,491.0 658.0,491.0" fill="none" stroke="#111111" stroke-width="3.0" stroke-linejoin="round"/>
<text x="44.54" y="610" font-size="27.69" fill="#111111">5052Al surface from the midpoint of the distance <tspan font-style="italic">L</tspan>/μm</text>
<text transform="translate(21,495.6) rotate(-90)" font-size="28" fill="#111111">Pressure <tspan font-style="italic">P</tspan>/MPa</text>
<text transform="matrix(0.2638,-0.7429,0.9426,0,751.02,482.54)" font-size="31" fill="#111111">C</text>
<text transform="matrix(0.2584,-0.7276,0.9328,0,756.48,467.18)" font-size="31" fill="#111111">u</text>
<text transform="matrix(0.2546,-0.7170,0.9260,0,760.48,455.90)" font-size="31" fill="#111111">r</text>
<text transform="matrix(0.2516,-0.7086,0.9206,0,763.11,448.50)" font-size="31" fill="#111111">r</text>
<text transform="matrix(0.2483,-0.6991,0.9144,0,765.71,441.19)" font-size="31" fill="#111111">e</text>
<text transform="matrix(0.2442,-0.6877,0.9069,0,769.12,431.57)" font-size="31" fill="#111111">n</text>
<text transform="matrix(0.2410,-0.6786,0.9009,0,772.91,420.91)" font-size="31" fill="#111111">t</text>
<text transform="matrix(0.2365,-0.6659,0.8924,0,776.84,409.85)" font-size="31" fill="#111111">f</text>
<text transform="matrix(0.2338,-0.6584,0.8874,0,779.28,402.98)" font-size="31" fill="#111111">r</text>
<text transform="matrix(0.2308,-0.6498,0.8816,0,781.69,396.18)" font-size="31" fill="#111111">e</text>
<text transform="matrix(0.2272,-0.6397,0.8747,0,784.87,387.24)" font-size="31" fill="#111111">q</text>
<text transform="matrix(0.2234,-0.6292,0.8674,0,788.39,377.32)" font-size="31" fill="#111111">u</text>
<text transform="matrix(0.2200,-0.6195,0.8607,0,791.85,367.57)" font-size="31" fill="#111111">e</text>
<text transform="matrix(0.2166,-0.6100,0.8541,0,794.88,359.05)" font-size="31" fill="#111111">n</text>
<text transform="matrix(0.2133,-0.6008,0.8476,0,798.24,349.59)" font-size="31" fill="#111111">c</text>
<text transform="matrix(0.2101,-0.5917,0.8412,0,801.17,341.33)" font-size="31" fill="#111111">y</text>
<text transform="matrix(0.2059,-0.5798,0.8327,0,806.04,327.62)" font-size="31" font-style="italic" fill="#111111">f</text>
<text transform="matrix(0.2041,-0.5747,0.8291,0,807.81,322.63)" font-size="31" fill="#111111">/</text>
<text transform="matrix(0.2016,-0.5677,0.8240,0,809.57,317.68)" font-size="31" fill="#111111">k</text>
<text transform="matrix(0.1978,-0.5570,0.8162,0,812.69,308.88)" font-size="31" fill="#111111">H</text>
<text transform="matrix(0.1943,-0.5471,0.8089,0,817.12,296.41)" font-size="31" fill="#111111">z</text>
<polygon points="921.5,557.3 1523,557.3 1660.6,237.6 1195.6,237.6" fill="#f2f2f2"/>
<polygon points="921.5,557.3 921.5,254.6 1195.6,3.59 1195.6,237.6" fill="#e5f7f6"/>
<polygon points="1195.6,237.6 1660.6,237.6 1660.6,3.59 1195.6,3.59" fill="#ffffdc"/>
<line x1="979.7" y1="557.3" x2="1240.59" y2="237.6" stroke="#d4d4d4" stroke-width="1.4"/>
<line x1="1240.59" y1="237.6" x2="1240.59" y2="3.59" stroke="#e2e2c8" stroke-width="1.4"/>
<line x1="1101.4" y1="557.3" x2="1334.67" y2="237.6" stroke="#d4d4d4" stroke-width="1.4"/>
<line x1="1334.67" y1="237.6" x2="1334.67" y2="3.59" stroke="#e2e2c8" stroke-width="1.4"/>
<line x1="1223.1" y1="557.3" x2="1428.76" y2="237.6" stroke="#d4d4d4" stroke-width="1.4"/>
<line x1="1428.76" y1="237.6" x2="1428.76" y2="3.59" stroke="#e2e2c8" stroke-width="1.4"/>
<line x1="1344.8" y1="557.3" x2="1522.84" y2="237.6" stroke="#d4d4d4" stroke-width="1.4"/>
<line x1="1522.84" y1="237.6" x2="1522.84" y2="3.59" stroke="#e2e2c8" stroke-width="1.4"/>
<line x1="1466.5" y1="557.3" x2="1616.92" y2="237.6" stroke="#d4d4d4" stroke-width="1.4"/>
<line x1="1616.92" y1="237.6" x2="1616.92" y2="3.59" stroke="#e2e2c8" stroke-width="1.4"/>
<line x1="950.34" y1="523.66" x2="1537.48" y2="523.66" stroke="#d4d4d4" stroke-width="1.4"/>
<line x1="950.34" y1="523.66" x2="950.34" y2="228.19" stroke="#cbd8d8" stroke-width="1.4"/>
<line x1="1004.08" y1="460.98" x2="1564.46" y2="460.98" stroke="#d4d4d4" stroke-width="1.4"/>
<line x1="1004.08" y1="460.98" x2="1004.08" y2="178.98" stroke="#cbd8d8" stroke-width="1.4"/>
<line x1="1053.13" y1="403.77" x2="1589.08" y2="403.77" stroke="#d4d4d4" stroke-width="1.4"/>
<line x1="1053.13" y1="403.77" x2="1053.13" y2="134.06" stroke="#cbd8d8" stroke-width="1.4"/>
<line x1="1098.09" y1="351.33" x2="1611.65" y2="351.33" stroke="#d4d4d4" stroke-width="1.4"/>
<line x1="1098.09" y1="351.33" x2="1098.09" y2="92.89" stroke="#cbd8d8" stroke-width="1.4"/>
<line x1="1139.44" y1="303.1" x2="1632.41" y2="303.1" stroke="#d4d4d4" stroke-width="1.4"/>
<line x1="1139.44" y1="303.1" x2="1139.44" y2="55.02" stroke="#cbd8d8" stroke-width="1.4"/>
<line x1="1177.6" y1="258.59" x2="1651.56" y2="258.59" stroke="#d4d4d4" stroke-width="1.4"/>
<line x1="1177.6" y1="258.59" x2="1177.6" y2="20.07" stroke="#cbd8d8" stroke-width="1.4"/>
<line x1="921.5" y1="519.46" x2="1195.6" y2="208.35" stroke="#cbd8d8" stroke-width="1.4"/>
<line x1="1195.6" y1="208.35" x2="1660.6" y2="208.35" stroke="#e2e2c8" stroke-width="1.4"/>
<line x1="921.5" y1="481.63" x2="1195.6" y2="179.1" stroke="#cbd8d8" stroke-width="1.4"/>
<line x1="1195.6" y1="179.1" x2="1660.6" y2="179.1" stroke="#e2e2c8" stroke-width="1.4"/>
<line x1="921.5" y1="443.79" x2="1195.6" y2="149.85" stroke="#cbd8d8" stroke-width="1.4"/>
<line x1="1195.6" y1="149.85" x2="1660.6" y2="149.85" stroke="#e2e2c8" stroke-width="1.4"/>
<line x1="921.5" y1="405.95" x2="1195.6" y2="120.6" stroke="#cbd8d8" stroke-width="1.4"/>
<line x1="1195.6" y1="120.6" x2="1660.6" y2="120.6" stroke="#e2e2c8" stroke-width="1.4"/>
<line x1="921.5" y1="368.11" x2="1195.6" y2="91.35" stroke="#cbd8d8" stroke-width="1.4"/>
<line x1="1195.6" y1="91.35" x2="1660.6" y2="91.35" stroke="#e2e2c8" stroke-width="1.4"/>
<line x1="921.5" y1="330.27" x2="1195.6" y2="62.09" stroke="#cbd8d8" stroke-width="1.4"/>
<line x1="1195.6" y1="62.09" x2="1660.6" y2="62.09" stroke="#e2e2c8" stroke-width="1.4"/>
<line x1="921.5" y1="292.44" x2="1195.6" y2="32.84" stroke="#cbd8d8" stroke-width="1.4"/>
<line x1="1195.6" y1="32.84" x2="1660.6" y2="32.84" stroke="#e2e2c8" stroke-width="1.4"/>
<line x1="1193.02" y1="240.61" x2="1659.31" y2="240.61" stroke="#ffffff" stroke-width="2.2" stroke-opacity="0.7"/>
<line x1="921.5" y1="254.6" x2="1195.6" y2="3.59" stroke="#868a86" stroke-width="1.7"/>
<line x1="1195.6" y1="3.59" x2="1660.6" y2="3.59" stroke="#8a8a78" stroke-width="1.7"/>
<line x1="1660.6" y1="3.59" x2="1660.6" y2="237.6" stroke="#8e8e78" stroke-width="1.7"/>
<line x1="1195.6" y1="237.6" x2="1660.6" y2="237.6" stroke="#aaaa92" stroke-width="2.2"/>
<line x1="1195.6" y1="237.6" x2="1195.6" y2="3.59" stroke="#7e8078" stroke-width="1.7"/>
<line x1="921.5" y1="557.3" x2="1195.6" y2="237.6" stroke="#737b7b" stroke-width="1.7"/>
<line x1="921.5" y1="557.3" x2="1523" y2="557.3" stroke="#111111" stroke-width="2.6" stroke-linecap="square"/>
<line x1="921.5" y1="557.3" x2="921.5" y2="254.6" stroke="#111111" stroke-width="2.6" stroke-linecap="square"/>
<line x1="1523" y1="557.3" x2="1660.6" y2="237.6" stroke="#111111" stroke-width="2.6" stroke-linecap="square"/>
<line x1="921.5" y1="538.38" x2="927.5" y2="538.38" stroke="#111111" stroke-width="2.4"/>
<line x1="921.5" y1="519.46" x2="932" y2="519.46" stroke="#111111" stroke-width="2.4"/>
<line x1="921.5" y1="500.54" x2="927.5" y2="500.54" stroke="#111111" stroke-width="2.4"/>
<line x1="921.5" y1="481.62" x2="932" y2="481.62" stroke="#111111" stroke-width="2.4"/>
<line x1="921.5" y1="462.71" x2="927.5" y2="462.71" stroke="#111111" stroke-width="2.4"/>
<line x1="921.5" y1="443.79" x2="932" y2="443.79" stroke="#111111" stroke-width="2.4"/>
<line x1="921.5" y1="424.87" x2="927.5" y2="424.87" stroke="#111111" stroke-width="2.4"/>
<line x1="921.5" y1="405.95" x2="932" y2="405.95" stroke="#111111" stroke-width="2.4"/>
<line x1="921.5" y1="387.03" x2="927.5" y2="387.03" stroke="#111111" stroke-width="2.4"/>
<line x1="921.5" y1="368.11" x2="932" y2="368.11" stroke="#111111" stroke-width="2.4"/>
<line x1="921.5" y1="349.19" x2="927.5" y2="349.19" stroke="#111111" stroke-width="2.4"/>
<line x1="921.5" y1="330.27" x2="932" y2="330.27" stroke="#111111" stroke-width="2.4"/>
<line x1="921.5" y1="311.36" x2="927.5" y2="311.36" stroke="#111111" stroke-width="2.4"/>
<line x1="921.5" y1="292.44" x2="932" y2="292.44" stroke="#111111" stroke-width="2.4"/>
<line x1="921.5" y1="273.52" x2="927.5" y2="273.52" stroke="#111111" stroke-width="2.4"/>
<line x1="921.5" y1="254.6" x2="932" y2="254.6" stroke="#111111" stroke-width="2.4"/>
<line x1="979.7" y1="557.3" x2="979.7" y2="546.8" stroke="#111111" stroke-width="2.4"/>
<line x1="1101.4" y1="557.3" x2="1101.4" y2="546.8" stroke="#111111" stroke-width="2.4"/>
<line x1="1223.1" y1="557.3" x2="1223.1" y2="546.8" stroke="#111111" stroke-width="2.4"/>
<line x1="1344.8" y1="557.3" x2="1344.8" y2="546.8" stroke="#111111" stroke-width="2.4"/>
<line x1="1466.5" y1="557.3" x2="1466.5" y2="546.8" stroke="#111111" stroke-width="2.4"/>
<line x1="1040.55" y1="557.3" x2="1040.55" y2="551.8" stroke="#111111" stroke-width="2.4"/>
<line x1="1162.25" y1="557.3" x2="1162.25" y2="551.8" stroke="#111111" stroke-width="2.4"/>
<line x1="1283.95" y1="557.3" x2="1283.95" y2="551.8" stroke="#111111" stroke-width="2.4"/>
<line x1="1405.65" y1="557.3" x2="1405.65" y2="551.8" stroke="#111111" stroke-width="2.4"/>
<line x1="1537.48" y1="523.66" x2="1527.23" y2="523.66" stroke="#111111" stroke-width="2.4"/>
<line x1="1564.46" y1="460.98" x2="1554.67" y2="460.98" stroke="#111111" stroke-width="2.4"/>
<line x1="1589.08" y1="403.77" x2="1579.73" y2="403.77" stroke="#111111" stroke-width="2.4"/>
<line x1="1611.65" y1="351.33" x2="1602.68" y2="351.33" stroke="#111111" stroke-width="2.4"/>
<line x1="1632.41" y1="303.1" x2="1623.8" y2="303.1" stroke="#111111" stroke-width="2.4"/>
<line x1="1651.56" y1="258.59" x2="1643.29" y2="258.59" stroke="#111111" stroke-width="2.4"/>
<line x1="1551.28" y1="491.59" x2="1546.04" y2="491.59" stroke="#111111" stroke-width="2.4"/>
<line x1="1577.04" y1="431.74" x2="1572.03" y2="431.74" stroke="#111111" stroke-width="2.4"/>
<line x1="1600.61" y1="376.99" x2="1595.81" y2="376.99" stroke="#111111" stroke-width="2.4"/>
<line x1="1622.24" y1="326.73" x2="1617.64" y2="326.73" stroke="#111111" stroke-width="2.4"/>
<line x1="1642.17" y1="280.41" x2="1637.76" y2="280.41" stroke="#111111" stroke-width="2.4"/>
<text x="897.16" y="565.22" font-size="24" fill="#111111">0</text>
<text x="885.16" y="527.38" font-size="24" fill="#111111">10</text>
<text x="885.16" y="489.55" font-size="24" fill="#111111">20</text>
<text x="885.16" y="451.71" font-size="24" fill="#111111">30</text>
<text x="885.16" y="413.87" font-size="24" fill="#111111">40</text>
<text x="885.16" y="376.03" font-size="24" fill="#111111">50</text>
<text x="885.16" y="338.19" font-size="24" fill="#111111">60</text>
<text x="885.16" y="300.36" font-size="24" fill="#111111">70</text>
<text x="885.16" y="262.52" font-size="24" fill="#111111">80</text>
<text x="958.47" y="591" font-size="23.2" fill="#111111">-100</text>
<text x="1085.97" y="591" font-size="23.2" fill="#111111">-50</text>
<text x="1217.3" y="591" font-size="23.2" fill="#111111">0</text>
<text x="1332.97" y="591" font-size="23.2" fill="#111111">50</text>
<text x="1448.52" y="591" font-size="23.2" fill="#111111">100</text>
<text x="1549.68" y="531.77" font-size="21.54" fill="#111111">0.05</text>
<text x="1576.1" y="468.93" font-size="21.04" fill="#111111">0.1</text>
<text x="1600.22" y="411.56" font-size="20.58" fill="#111111">0.2</text>
<text x="1622.32" y="358.98" font-size="20.14" fill="#111111">0.3</text>
<text x="1642.65" y="310.62" font-size="19.74" fill="#111111">0.6</text>
<text x="1661.41" y="265.98" font-size="19.35" fill="#111111">1</text>
<text x="1353.7" y="41" font-size="27.46" font-weight="bold" fill="#111111">56.53MPa</text>
<text x="1116.34" y="274.8" font-size="27.32" font-weight="bold" fill="#111111">6.49MPa</text>
<text x="1076.1" y="331.7" font-size="27.57" font-weight="bold" fill="#111111">3.97MPa</text>
<text x="1031.79" y="384.8" font-size="27.79" font-weight="bold" fill="#111111">3.93MPa</text>
<text x="983.7" y="444.1" font-size="27.57" font-weight="bold" fill="#111111">3.75MPa</text>
<text x="935.83" y="503.9" font-size="26.85" font-weight="bold" fill="#111111">3.64MPa</text>
<path d="M1177.6,255.7 1179.2,255.3 1180.8,255.0 1182.4,254.6 1183.9,254.2 1185.5,253.9 1187.1,253.5 1188.7,253.1 1190.3,252.8 1191.9,252.4 1193.5,252.0 1195.0,251.7 1196.6,251.3 1198.2,250.9 1199.8,250.5 1201.4,250.1 1203.0,249.8 1204.5,249.4 1206.1,249.0 1207.7,248.6 1209.3,248.2 1210.9,247.8 1212.5,247.4 1214.1,247.0 1215.6,246.6 1217.2,246.2 1218.8,245.8 1220.4,245.4 1222.0,245.0 1223.6,244.6 1225.2,244.2 1226.7,243.8 1228.3,243.4 1229.9,242.9 1231.5,242.5 1233.1,242.1 1234.7,241.7 1236.3,241.2 1237.8,240.8 1239.4,240.4 1241.0,239.9 1242.6,239.5 1244.2,239.1 1245.8,238.6 1247.3,238.2 1248.9,237.7 1250.5,237.3 1252.1,236.8 1253.7,236.4 1255.3,235.9 1256.9,235.4 1258.4,235.0 1260.0,234.5 1261.6,234.0 1263.2,233.5 1264.8,233.0 1266.4,232.6 1268.0,232.1 1269.5,231.6 1271.1,231.1 1272.7,230.6 1274.3,230.1 1275.9,229.6 1277.5,229.1 1279.1,228.5 1280.6,228.0 1282.2,227.5 1283.8,227.0 1285.4,226.4 1287.0,225.9 1288.6,225.3 1290.1,224.8 1291.7,224.2 1293.3,223.7 1294.9,223.1 1296.5,222.5 1298.1,221.9 1299.7,221.3 1301.2,220.7 1302.8,220.1 1304.4,219.5 1306.0,218.9 1307.6,218.3 1309.2,217.7 1310.8,217.0 1312.3,216.4 1313.9,215.7 1315.5,215.1 1317.1,214.4 1318.7,213.7 1320.3,213.0 1321.9,212.3 1323.4,211.6 1325.0,210.9 1326.6,210.2 1328.2,209.4 1329.8,208.7 1331.4,207.9 1332.9,207.1 1334.5,206.3 1336.1,205.5 1337.7,204.7 1339.3,203.8 1340.9,203.0 1342.5,202.1 1344.0,201.2 1345.6,200.3 1347.2,199.3 1348.8,198.4 1350.4,197.4 1352.0,196.4 1353.6,195.3 1355.1,194.2 1356.7,193.1 1358.3,192.0 1359.9,190.9 1361.5,189.6 1363.1,188.4 1364.7,187.1 1366.2,185.8 1367.8,184.4 1369.4,183.0 1371.0,181.5 1372.6,179.9 1374.2,178.2 1375.7,176.5 1377.3,174.7 1378.9,172.8 1380.5,170.8 1382.1,168.6 1383.7,166.4 1385.3,163.9 1386.8,161.3 1388.4,158.5 1390.0,155.4 1391.6,152.1 1393.2,148.5 1394.8,144.5 1396.4,140.1 1397.9,135.2 1399.5,129.8 1401.1,123.7 1402.7,116.8 1404.3,108.9 1405.9,99.8 1407.4,89.4 1409.0,77.7 1410.6,66.4 1411.1,63.9 1412.2,72.0 1413.8,80.3 1415.4,88.4 1417.0,97.0 1418.5,106.1 1420.1,115.3 1421.7,124.0 1423.3,131.3 1424.9,136.8 1426.5,141.0 1428.1,144.5 1429.6,147.6 1431.2,150.5 1432.8,153.2 1434.4,155.9 1436.0,158.4 1437.6,160.9 1439.2,163.4 1440.7,165.8 1442.3,168.1 1443.9,170.4 1445.5,172.6 1447.1,174.6 1448.7,176.6 1450.2,178.5 1451.8,180.2 1453.4,181.9 1455.0,183.5 1456.6,185.0 1458.2,186.4 1459.8,187.8 1461.3,189.1 1462.9,190.3 1464.5,191.5 1466.1,192.7 1467.7,193.8 1469.3,194.9 1470.9,195.9 1472.4,196.9 1474.0,197.9 1475.6,198.8 1477.2,199.7 1478.8,200.6 1480.4,201.5 1482.0,202.4 1483.5,203.2 1485.1,204.0 1486.7,204.8 1488.3,205.6 1489.9,206.4 1491.5,207.2 1493.0,207.9 1494.6,208.7 1496.2,209.4 1497.8,210.1 1499.4,210.8 1501.0,211.5 1502.6,212.2 1504.1,212.9 1505.7,213.6 1507.3,214.3 1508.9,214.9 1510.5,215.6 1512.1,216.2 1513.7,216.9 1515.2,217.5 1516.8,218.2 1518.4,218.8 1520.0,219.4 1521.6,220.1 1523.2,220.7 1524.8,221.3 1526.3,221.9 1527.9,222.5 1529.5,223.1 1531.1,223.7 1532.7,224.3 1534.3,224.9 1535.8,225.5 1537.4,226.0 1539.0,226.6 1540.6,227.2 1542.2,227.7 1543.8,228.3 1545.4,228.8 1546.9,229.4 1548.5,229.9 1550.1,230.4 1551.7,231.0 1553.3,231.5 1554.9,232.0 1556.5,232.5 1558.0,233.1 1559.6,233.6 1561.2,234.1 1562.8,234.6 1564.4,235.0 1566.0,235.5 1567.6,236.0 1569.1,236.5 1570.7,237.0 1572.3,237.4 1573.9,237.9 1575.5,238.4 1577.1,238.8 1578.6,239.3 1580.2,239.7 1581.8,240.2 1583.4,240.6 1585.0,241.1 1586.6,241.5 1588.2,241.9 1589.7,242.3 1591.3,242.8 1592.9,243.2 1594.5,243.6 1596.1,244.0 1597.7,244.4 1599.3,244.8 1600.8,245.2 1602.4,245.6 1604.0,246.0 1605.6,246.4 1607.2,246.8 1608.8,247.2 1610.4,247.5 1611.9,247.9 1613.5,248.3 1615.1,248.6 1616.7,249.0 1618.3,249.4 1619.9,249.7 1621.4,250.1 1623.0,250.4 1624.6,250.8 1626.2,251.1 1627.8,251.5 1629.4,251.8 1631.0,252.2 1632.5,252.5 1634.1,252.8 1635.7,253.1 1637.3,253.5 1638.9,253.8 1640.5,254.1 1642.1,254.4 1643.6,254.7 1645.2,255.0 1646.8,255.4 1648.4,255.7 1650.0,256.0 1651.6,256.3" fill="none" stroke="#ffffff" stroke-opacity="0.75" stroke-width="5.8" stroke-linejoin="round"/>
<path d="M1177.6,255.7 1179.2,255.3 1180.8,255.0 1182.4,254.6 1183.9,254.2 1185.5,253.9 1187.1,253.5 1188.7,253.1 1190.3,252.8 1191.9,252.4 1193.5,252.0 1195.0,251.7 1196.6,251.3 1198.2,250.9 1199.8,250.5 1201.4,250.1 1203.0,249.8 1204.5,249.4 1206.1,249.0 1207.7,248.6 1209.3,248.2 1210.9,247.8 1212.5,247.4 1214.1,247.0 1215.6,246.6 1217.2,246.2 1218.8,245.8 1220.4,245.4 1222.0,245.0 1223.6,244.6 1225.2,244.2 1226.7,243.8 1228.3,243.4 1229.9,242.9 1231.5,242.5 1233.1,242.1 1234.7,241.7 1236.3,241.2 1237.8,240.8 1239.4,240.4 1241.0,239.9 1242.6,239.5 1244.2,239.1 1245.8,238.6 1247.3,238.2 1248.9,237.7 1250.5,237.3 1252.1,236.8 1253.7,236.4 1255.3,235.9 1256.9,235.4 1258.4,235.0 1260.0,234.5 1261.6,234.0 1263.2,233.5 1264.8,233.0 1266.4,232.6 1268.0,232.1 1269.5,231.6 1271.1,231.1 1272.7,230.6 1274.3,230.1 1275.9,229.6 1277.5,229.1 1279.1,228.5 1280.6,228.0 1282.2,227.5 1283.8,227.0 1285.4,226.4 1287.0,225.9 1288.6,225.3 1290.1,224.8 1291.7,224.2 1293.3,223.7 1294.9,223.1 1296.5,222.5 1298.1,221.9 1299.7,221.3 1301.2,220.7 1302.8,220.1 1304.4,219.5 1306.0,218.9 1307.6,218.3 1309.2,217.7 1310.8,217.0 1312.3,216.4 1313.9,215.7 1315.5,215.1 1317.1,214.4 1318.7,213.7 1320.3,213.0 1321.9,212.3 1323.4,211.6 1325.0,210.9 1326.6,210.2 1328.2,209.4 1329.8,208.7 1331.4,207.9 1332.9,207.1 1334.5,206.3 1336.1,205.5 1337.7,204.7 1339.3,203.8 1340.9,203.0 1342.5,202.1 1344.0,201.2 1345.6,200.3 1347.2,199.3 1348.8,198.4 1350.4,197.4 1352.0,196.4 1353.6,195.3 1355.1,194.2 1356.7,193.1 1358.3,192.0 1359.9,190.9 1361.5,189.6 1363.1,188.4 1364.7,187.1 1366.2,185.8 1367.8,184.4 1369.4,183.0 1371.0,181.5 1372.6,179.9 1374.2,178.2 1375.7,176.5 1377.3,174.7 1378.9,172.8 1380.5,170.8 1382.1,168.6 1383.7,166.4 1385.3,163.9 1386.8,161.3 1388.4,158.5 1390.0,155.4 1391.6,152.1 1393.2,148.5 1394.8,144.5 1396.4,140.1 1397.9,135.2 1399.5,129.8 1401.1,123.7 1402.7,116.8 1404.3,108.9 1405.9,99.8 1407.4,89.4 1409.0,77.7 1410.6,66.4 1411.1,63.9 1412.2,72.0 1413.8,80.3 1415.4,88.4 1417.0,97.0 1418.5,106.1 1420.1,115.3 1421.7,124.0 1423.3,131.3 1424.9,136.8 1426.5,141.0 1428.1,144.5 1429.6,147.6 1431.2,150.5 1432.8,153.2 1434.4,155.9 1436.0,158.4 1437.6,160.9 1439.2,163.4 1440.7,165.8 1442.3,168.1 1443.9,170.4 1445.5,172.6 1447.1,174.6 1448.7,176.6 1450.2,178.5 1451.8,180.2 1453.4,181.9 1455.0,183.5 1456.6,185.0 1458.2,186.4 1459.8,187.8 1461.3,189.1 1462.9,190.3 1464.5,191.5 1466.1,192.7 1467.7,193.8 1469.3,194.9 1470.9,195.9 1472.4,196.9 1474.0,197.9 1475.6,198.8 1477.2,199.7 1478.8,200.6 1480.4,201.5 1482.0,202.4 1483.5,203.2 1485.1,204.0 1486.7,204.8 1488.3,205.6 1489.9,206.4 1491.5,207.2 1493.0,207.9 1494.6,208.7 1496.2,209.4 1497.8,210.1 1499.4,210.8 1501.0,211.5 1502.6,212.2 1504.1,212.9 1505.7,213.6 1507.3,214.3 1508.9,214.9 1510.5,215.6 1512.1,216.2 1513.7,216.9 1515.2,217.5 1516.8,218.2 1518.4,218.8 1520.0,219.4 1521.6,220.1 1523.2,220.7 1524.8,221.3 1526.3,221.9 1527.9,222.5 1529.5,223.1 1531.1,223.7 1532.7,224.3 1534.3,224.9 1535.8,225.5 1537.4,226.0 1539.0,226.6 1540.6,227.2 1542.2,227.7 1543.8,228.3 1545.4,228.8 1546.9,229.4 1548.5,229.9 1550.1,230.4 1551.7,231.0 1553.3,231.5 1554.9,232.0 1556.5,232.5 1558.0,233.1 1559.6,233.6 1561.2,234.1 1562.8,234.6 1564.4,235.0 1566.0,235.5 1567.6,236.0 1569.1,236.5 1570.7,237.0 1572.3,237.4 1573.9,237.9 1575.5,238.4 1577.1,238.8 1578.6,239.3 1580.2,239.7 1581.8,240.2 1583.4,240.6 1585.0,241.1 1586.6,241.5 1588.2,241.9 1589.7,242.3 1591.3,242.8 1592.9,243.2 1594.5,243.6 1596.1,244.0 1597.7,244.4 1599.3,244.8 1600.8,245.2 1602.4,245.6 1604.0,246.0 1605.6,246.4 1607.2,246.8 1608.8,247.2 1610.4,247.5 1611.9,247.9 1613.5,248.3 1615.1,248.6 1616.7,249.0 1618.3,249.4 1619.9,249.7 1621.4,250.1 1623.0,250.4 1624.6,250.8 1626.2,251.1 1627.8,251.5 1629.4,251.8 1631.0,252.2 1632.5,252.5 1634.1,252.8 1635.7,253.1 1637.3,253.5 1638.9,253.8 1640.5,254.1 1642.1,254.4 1643.6,254.7 1645.2,255.0 1646.8,255.4 1648.4,255.7 1650.0,256.0 1651.6,256.3" fill="none" stroke="#14149a" stroke-width="3.4" stroke-linejoin="round"/>
<path d="M1139.4,282.5 1141.1,282.6 1142.7,282.6 1144.4,282.7 1146.0,282.7 1147.7,282.8 1149.3,282.9 1151.0,282.9 1152.6,283.0 1154.3,283.1 1155.9,283.1 1157.6,283.2 1159.2,283.2 1160.9,283.3 1162.5,283.4 1164.2,283.4 1165.8,283.5 1167.5,283.6 1169.1,283.6 1170.8,283.7 1172.4,283.7 1174.1,283.8 1175.7,283.9 1177.4,283.9 1179.0,284.0 1180.7,284.1 1182.3,284.1 1184.0,284.2 1185.6,284.2 1187.3,284.3 1188.9,284.4 1190.5,284.4 1192.2,284.5 1193.8,284.6 1195.5,284.6 1197.1,284.7 1198.8,284.8 1200.4,284.8 1202.1,284.9 1203.7,285.0 1205.4,285.0 1207.0,285.1 1208.7,285.1 1210.3,285.2 1212.0,285.3 1213.6,285.3 1215.3,285.4 1216.9,285.5 1218.6,285.5 1220.2,285.6 1221.9,285.6 1223.5,285.7 1225.2,285.8 1226.8,285.8 1228.5,285.9 1230.1,285.9 1231.8,286.0 1233.4,286.0 1235.1,286.1 1236.7,286.2 1238.4,286.2 1240.0,286.3 1241.7,286.3 1243.3,286.4 1245.0,286.4 1246.6,286.5 1248.3,286.6 1249.9,286.6 1251.6,286.7 1253.2,286.7 1254.8,286.8 1256.5,286.9 1258.1,286.9 1259.8,287.0 1261.4,287.1 1263.1,287.1 1264.7,287.2 1266.4,287.3 1268.0,287.3 1269.7,287.4 1271.3,287.5 1273.0,287.5 1274.6,287.6 1276.3,287.7 1277.9,287.8 1279.6,287.8 1281.2,287.9 1282.9,288.0 1284.5,288.1 1286.2,288.2 1287.8,288.3 1289.5,288.4 1291.1,288.4 1292.8,288.5 1294.4,288.6 1296.1,288.7 1297.7,288.8 1299.4,288.9 1301.0,289.0 1302.7,289.1 1304.3,289.3 1306.0,289.4 1307.6,289.5 1309.3,289.6 1310.9,289.7 1312.6,289.9 1314.2,290.0 1315.9,290.1 1317.5,290.3 1319.1,290.4 1320.8,290.5 1322.4,290.7 1324.1,290.9 1325.7,291.0 1327.4,291.2 1329.0,291.3 1330.7,291.5 1332.3,291.7 1334.0,291.9 1335.6,292.1 1337.3,292.3 1338.9,292.5 1340.6,292.7 1342.2,293.0 1343.9,293.2 1345.5,293.5 1347.2,293.9 1348.8,294.2 1350.5,294.5 1352.1,294.9 1353.8,295.3 1355.4,295.6 1357.1,296.0 1358.7,296.4 1360.4,296.8 1362.0,297.1 1363.7,297.5 1365.3,297.9 1367.0,298.4 1368.6,298.9 1370.3,299.4 1371.9,299.9 1373.6,300.4 1375.2,300.9 1376.9,301.4 1378.5,301.8 1380.2,302.2 1381.8,302.5 1383.5,302.7 1385.1,302.8 1386.7,302.8 1388.4,302.6 1390.0,302.3 1391.7,301.9 1393.3,301.4 1395.0,301.0 1396.6,300.6 1398.3,300.2 1399.9,299.7 1401.6,299.1 1403.2,298.6 1404.9,298.1 1406.5,297.5 1408.2,297.1 1409.8,296.6 1411.5,296.2 1413.1,295.8 1414.8,295.5 1416.4,295.1 1418.1,294.7 1419.7,294.4 1421.4,294.0 1423.0,293.7 1424.7,293.4 1426.3,293.1 1428.0,292.8 1429.6,292.5 1431.3,292.3 1432.9,292.0 1434.6,291.8 1436.2,291.5 1437.9,291.3 1439.5,291.1 1441.2,290.9 1442.8,290.7 1444.5,290.5 1446.1,290.3 1447.8,290.2 1449.4,290.0 1451.0,289.8 1452.7,289.7 1454.3,289.5 1456.0,289.4 1457.6,289.2 1459.3,289.1 1460.9,289.0 1462.6,288.9 1464.2,288.7 1465.9,288.6 1467.5,288.5 1469.2,288.4 1470.8,288.3 1472.5,288.2 1474.1,288.1 1475.8,288.0 1477.4,287.9 1479.1,287.8 1480.7,287.7 1482.4,287.6 1484.0,287.5 1485.7,287.4 1487.3,287.3 1489.0,287.2 1490.6,287.1 1492.3,287.0 1493.9,286.9 1495.6,286.8 1497.2,286.8 1498.9,286.7 1500.5,286.6 1502.2,286.5 1503.8,286.4 1505.5,286.3 1507.1,286.2 1508.8,286.1 1510.4,286.0 1512.1,285.9 1513.7,285.9 1515.3,285.8 1517.0,285.7 1518.6,285.6 1520.3,285.5 1521.9,285.5 1523.6,285.4 1525.2,285.3 1526.9,285.3 1528.5,285.2 1530.2,285.1 1531.8,285.1 1533.5,285.0 1535.1,285.0 1536.8,284.9 1538.4,284.9 1540.1,284.8 1541.7,284.8 1543.4,284.7 1545.0,284.7 1546.7,284.6 1548.3,284.6 1550.0,284.5 1551.6,284.5 1553.3,284.4 1554.9,284.4 1556.6,284.4 1558.2,284.3 1559.9,284.3 1561.5,284.2 1563.2,284.2 1564.8,284.2 1566.5,284.1 1568.1,284.1 1569.8,284.1 1571.4,284.0 1573.1,284.0 1574.7,283.9 1576.4,283.9 1578.0,283.9 1579.6,283.8 1581.3,283.8 1582.9,283.8 1584.6,283.7 1586.2,283.7 1587.9,283.7 1589.5,283.6 1591.2,283.6 1592.8,283.6 1594.5,283.5 1596.1,283.5 1597.8,283.5 1599.4,283.4 1601.1,283.4 1602.7,283.4 1604.4,283.3 1606.0,283.3 1607.7,283.3 1609.3,283.3 1611.0,283.2 1612.6,283.2 1614.3,283.2 1615.9,283.1 1617.6,283.1 1619.2,283.1 1620.9,283.1 1622.5,283.0 1624.2,283.0 1625.8,283.0 1627.5,283.0 1629.1,282.9 1630.8,282.9 1632.4,282.9" fill="none" stroke="#ffffff" stroke-opacity="0.75" stroke-width="5.8" stroke-linejoin="round"/>
<path d="M1139.4,282.5 1141.1,282.6 1142.7,282.6 1144.4,282.7 1146.0,282.7 1147.7,282.8 1149.3,282.9 1151.0,282.9 1152.6,283.0 1154.3,283.1 1155.9,283.1 1157.6,283.2 1159.2,283.2 1160.9,283.3 1162.5,283.4 1164.2,283.4 1165.8,283.5 1167.5,283.6 1169.1,283.6 1170.8,283.7 1172.4,283.7 1174.1,283.8 1175.7,283.9 1177.4,283.9 1179.0,284.0 1180.7,284.1 1182.3,284.1 1184.0,284.2 1185.6,284.2 1187.3,284.3 1188.9,284.4 1190.5,284.4 1192.2,284.5 1193.8,284.6 1195.5,284.6 1197.1,284.7 1198.8,284.8 1200.4,284.8 1202.1,284.9 1203.7,285.0 1205.4,285.0 1207.0,285.1 1208.7,285.1 1210.3,285.2 1212.0,285.3 1213.6,285.3 1215.3,285.4 1216.9,285.5 1218.6,285.5 1220.2,285.6 1221.9,285.6 1223.5,285.7 1225.2,285.8 1226.8,285.8 1228.5,285.9 1230.1,285.9 1231.8,286.0 1233.4,286.0 1235.1,286.1 1236.7,286.2 1238.4,286.2 1240.0,286.3 1241.7,286.3 1243.3,286.4 1245.0,286.4 1246.6,286.5 1248.3,286.6 1249.9,286.6 1251.6,286.7 1253.2,286.7 1254.8,286.8 1256.5,286.9 1258.1,286.9 1259.8,287.0 1261.4,287.1 1263.1,287.1 1264.7,287.2 1266.4,287.3 1268.0,287.3 1269.7,287.4 1271.3,287.5 1273.0,287.5 1274.6,287.6 1276.3,287.7 1277.9,287.8 1279.6,287.8 1281.2,287.9 1282.9,288.0 1284.5,288.1 1286.2,288.2 1287.8,288.3 1289.5,288.4 1291.1,288.4 1292.8,288.5 1294.4,288.6 1296.1,288.7 1297.7,288.8 1299.4,288.9 1301.0,289.0 1302.7,289.1 1304.3,289.3 1306.0,289.4 1307.6,289.5 1309.3,289.6 1310.9,289.7 1312.6,289.9 1314.2,290.0 1315.9,290.1 1317.5,290.3 1319.1,290.4 1320.8,290.5 1322.4,290.7 1324.1,290.9 1325.7,291.0 1327.4,291.2 1329.0,291.3 1330.7,291.5 1332.3,291.7 1334.0,291.9 1335.6,292.1 1337.3,292.3 1338.9,292.5 1340.6,292.7 1342.2,293.0 1343.9,293.2 1345.5,293.5 1347.2,293.9 1348.8,294.2 1350.5,294.5 1352.1,294.9 1353.8,295.3 1355.4,295.6 1357.1,296.0 1358.7,296.4 1360.4,296.8 1362.0,297.1 1363.7,297.5 1365.3,297.9 1367.0,298.4 1368.6,298.9 1370.3,299.4 1371.9,299.9 1373.6,300.4 1375.2,300.9 1376.9,301.4 1378.5,301.8 1380.2,302.2 1381.8,302.5 1383.5,302.7 1385.1,302.8 1386.7,302.8 1388.4,302.6 1390.0,302.3 1391.7,301.9 1393.3,301.4 1395.0,301.0 1396.6,300.6 1398.3,300.2 1399.9,299.7 1401.6,299.1 1403.2,298.6 1404.9,298.1 1406.5,297.5 1408.2,297.1 1409.8,296.6 1411.5,296.2 1413.1,295.8 1414.8,295.5 1416.4,295.1 1418.1,294.7 1419.7,294.4 1421.4,294.0 1423.0,293.7 1424.7,293.4 1426.3,293.1 1428.0,292.8 1429.6,292.5 1431.3,292.3 1432.9,292.0 1434.6,291.8 1436.2,291.5 1437.9,291.3 1439.5,291.1 1441.2,290.9 1442.8,290.7 1444.5,290.5 1446.1,290.3 1447.8,290.2 1449.4,290.0 1451.0,289.8 1452.7,289.7 1454.3,289.5 1456.0,289.4 1457.6,289.2 1459.3,289.1 1460.9,289.0 1462.6,288.9 1464.2,288.7 1465.9,288.6 1467.5,288.5 1469.2,288.4 1470.8,288.3 1472.5,288.2 1474.1,288.1 1475.8,288.0 1477.4,287.9 1479.1,287.8 1480.7,287.7 1482.4,287.6 1484.0,287.5 1485.7,287.4 1487.3,287.3 1489.0,287.2 1490.6,287.1 1492.3,287.0 1493.9,286.9 1495.6,286.8 1497.2,286.8 1498.9,286.7 1500.5,286.6 1502.2,286.5 1503.8,286.4 1505.5,286.3 1507.1,286.2 1508.8,286.1 1510.4,286.0 1512.1,285.9 1513.7,285.9 1515.3,285.8 1517.0,285.7 1518.6,285.6 1520.3,285.5 1521.9,285.5 1523.6,285.4 1525.2,285.3 1526.9,285.3 1528.5,285.2 1530.2,285.1 1531.8,285.1 1533.5,285.0 1535.1,285.0 1536.8,284.9 1538.4,284.9 1540.1,284.8 1541.7,284.8 1543.4,284.7 1545.0,284.7 1546.7,284.6 1548.3,284.6 1550.0,284.5 1551.6,284.5 1553.3,284.4 1554.9,284.4 1556.6,284.4 1558.2,284.3 1559.9,284.3 1561.5,284.2 1563.2,284.2 1564.8,284.2 1566.5,284.1 1568.1,284.1 1569.8,284.1 1571.4,284.0 1573.1,284.0 1574.7,283.9 1576.4,283.9 1578.0,283.9 1579.6,283.8 1581.3,283.8 1582.9,283.8 1584.6,283.7 1586.2,283.7 1587.9,283.7 1589.5,283.6 1591.2,283.6 1592.8,283.6 1594.5,283.5 1596.1,283.5 1597.8,283.5 1599.4,283.4 1601.1,283.4 1602.7,283.4 1604.4,283.3 1606.0,283.3 1607.7,283.3 1609.3,283.3 1611.0,283.2 1612.6,283.2 1614.3,283.2 1615.9,283.1 1617.6,283.1 1619.2,283.1 1620.9,283.1 1622.5,283.0 1624.2,283.0 1625.8,283.0 1627.5,283.0 1629.1,282.9 1630.8,282.9 1632.4,282.9" fill="none" stroke="#14149a" stroke-width="3.4" stroke-linejoin="round"/>
<path d="M1098.1,339.5 1099.8,339.5 1101.5,339.6 1103.2,339.6 1105.0,339.7 1106.7,339.7 1108.4,339.7 1110.1,339.8 1111.8,339.8 1113.5,339.8 1115.3,339.9 1117.0,339.9 1118.7,340.0 1120.4,340.0 1122.1,340.0 1123.9,340.1 1125.6,340.1 1127.3,340.1 1129.0,340.2 1130.7,340.2 1132.4,340.3 1134.2,340.3 1135.9,340.3 1137.6,340.4 1139.3,340.4 1141.0,340.4 1142.7,340.5 1144.5,340.5 1146.2,340.5 1147.9,340.6 1149.6,340.6 1151.3,340.6 1153.1,340.6 1154.8,340.7 1156.5,340.7 1158.2,340.7 1159.9,340.8 1161.6,340.8 1163.4,340.8 1165.1,340.9 1166.8,340.9 1168.5,340.9 1170.2,341.0 1171.9,341.0 1173.7,341.0 1175.4,341.1 1177.1,341.1 1178.8,341.1 1180.5,341.2 1182.3,341.2 1184.0,341.2 1185.7,341.3 1187.4,341.3 1189.1,341.3 1190.8,341.4 1192.6,341.4 1194.3,341.4 1196.0,341.5 1197.7,341.5 1199.4,341.5 1201.1,341.6 1202.9,341.6 1204.6,341.7 1206.3,341.7 1208.0,341.7 1209.7,341.8 1211.5,341.8 1213.2,341.9 1214.9,341.9 1216.6,342.0 1218.3,342.0 1220.0,342.0 1221.8,342.1 1223.5,342.1 1225.2,342.2 1226.9,342.2 1228.6,342.3 1230.3,342.3 1232.1,342.4 1233.8,342.4 1235.5,342.4 1237.2,342.5 1238.9,342.5 1240.6,342.6 1242.4,342.6 1244.1,342.7 1245.8,342.7 1247.5,342.8 1249.2,342.8 1251.0,342.9 1252.7,342.9 1254.4,343.0 1256.1,343.1 1257.8,343.1 1259.5,343.2 1261.3,343.2 1263.0,343.3 1264.7,343.4 1266.4,343.4 1268.1,343.5 1269.8,343.6 1271.6,343.6 1273.3,343.7 1275.0,343.8 1276.7,343.8 1278.4,343.9 1280.2,344.0 1281.9,344.1 1283.6,344.2 1285.3,344.2 1287.0,344.3 1288.7,344.4 1290.5,344.5 1292.2,344.6 1293.9,344.7 1295.6,344.8 1297.3,345.0 1299.0,345.1 1300.8,345.3 1302.5,345.4 1304.2,345.6 1305.9,345.8 1307.6,346.0 1309.4,346.2 1311.1,346.4 1312.8,346.5 1314.5,346.7 1316.2,346.9 1317.9,347.1 1319.7,347.3 1321.4,347.5 1323.1,347.7 1324.8,347.9 1326.5,348.1 1328.2,348.3 1330.0,348.5 1331.7,348.6 1333.4,348.8 1335.1,349.1 1336.8,349.3 1338.6,349.5 1340.3,349.7 1342.0,350.0 1343.7,350.2 1345.4,350.4 1347.1,350.5 1348.9,350.7 1350.6,350.8 1352.3,350.9 1354.0,350.9 1355.7,350.9 1357.4,350.8 1359.2,350.7 1360.9,350.6 1362.6,350.4 1364.3,350.2 1366.0,350.0 1367.8,349.8 1369.5,349.5 1371.2,349.2 1372.9,349.0 1374.6,348.7 1376.3,348.5 1378.1,348.2 1379.8,348.0 1381.5,347.8 1383.2,347.6 1384.9,347.4 1386.6,347.2 1388.4,346.9 1390.1,346.7 1391.8,346.4 1393.5,346.2 1395.2,346.0 1396.9,345.7 1398.7,345.5 1400.4,345.3 1402.1,345.1 1403.8,344.9 1405.5,344.7 1407.3,344.5 1409.0,344.3 1410.7,344.2 1412.4,344.0 1414.1,343.9 1415.8,343.7 1417.6,343.6 1419.3,343.4 1421.0,343.3 1422.7,343.1 1424.4,343.0 1426.1,342.9 1427.9,342.7 1429.6,342.6 1431.3,342.5 1433.0,342.4 1434.7,342.2 1436.5,342.1 1438.2,342.0 1439.9,341.9 1441.6,341.8 1443.3,341.7 1445.0,341.6 1446.8,341.5 1448.5,341.5 1450.2,341.4 1451.9,341.3 1453.6,341.3 1455.3,341.2 1457.1,341.2 1458.8,341.1 1460.5,341.1 1462.2,341.0 1463.9,341.0 1465.7,341.0 1467.4,340.9 1469.1,340.9 1470.8,340.9 1472.5,340.8 1474.2,340.8 1476.0,340.8 1477.7,340.7 1479.4,340.7 1481.1,340.7 1482.8,340.7 1484.5,340.6 1486.3,340.6 1488.0,340.6 1489.7,340.6 1491.4,340.5 1493.1,340.5 1494.9,340.5 1496.6,340.5 1498.3,340.4 1500.0,340.4 1501.7,340.4 1503.4,340.4 1505.2,340.3 1506.9,340.3 1508.6,340.3 1510.3,340.3 1512.0,340.2 1513.7,340.2 1515.5,340.2 1517.2,340.1 1518.9,340.1 1520.6,340.1 1522.3,340.1 1524.1,340.0 1525.8,340.0 1527.5,340.0 1529.2,340.0 1530.9,339.9 1532.6,339.9 1534.4,339.9 1536.1,339.9 1537.8,339.9 1539.5,339.8 1541.2,339.8 1542.9,339.8 1544.7,339.8 1546.4,339.8 1548.1,339.8 1549.8,339.8 1551.5,339.8 1553.3,339.8 1555.0,339.8 1556.7,339.8 1558.4,339.8 1560.1,339.8 1561.8,339.8 1563.6,339.8 1565.3,339.8 1567.0,339.7 1568.7,339.7 1570.4,339.7 1572.1,339.7 1573.9,339.7 1575.6,339.7 1577.3,339.7 1579.0,339.7 1580.7,339.7 1582.4,339.7 1584.2,339.7 1585.9,339.7 1587.6,339.7 1589.3,339.7 1591.0,339.7 1592.8,339.7 1594.5,339.7 1596.2,339.7 1597.9,339.7 1599.6,339.7 1601.3,339.7 1603.1,339.7 1604.8,339.7 1606.5,339.7 1608.2,339.7 1609.9,339.7 1611.6,339.7" fill="none" stroke="#ffffff" stroke-opacity="0.75" stroke-width="5.8" stroke-linejoin="round"/>
<path d="M1098.1,339.5 1099.8,339.5 1101.5,339.6 1103.2,339.6 1105.0,339.7 1106.7,339.7 1108.4,339.7 1110.1,339.8 1111.8,339.8 1113.5,339.8 1115.3,339.9 1117.0,339.9 1118.7,340.0 1120.4,340.0 1122.1,340.0 1123.9,340.1 1125.6,340.1 1127.3,340.1 1129.0,340.2 1130.7,340.2 1132.4,340.3 1134.2,340.3 1135.9,340.3 1137.6,340.4 1139.3,340.4 1141.0,340.4 1142.7,340.5 1144.5,340.5 1146.2,340.5 1147.9,340.6 1149.6,340.6 1151.3,340.6 1153.1,340.6 1154.8,340.7 1156.5,340.7 1158.2,340.7 1159.9,340.8 1161.6,340.8 1163.4,340.8 1165.1,340.9 1166.8,340.9 1168.5,340.9 1170.2,341.0 1171.9,341.0 1173.7,341.0 1175.4,341.1 1177.1,341.1 1178.8,341.1 1180.5,341.2 1182.3,341.2 1184.0,341.2 1185.7,341.3 1187.4,341.3 1189.1,341.3 1190.8,341.4 1192.6,341.4 1194.3,341.4 1196.0,341.5 1197.7,341.5 1199.4,341.5 1201.1,341.6 1202.9,341.6 1204.6,341.7 1206.3,341.7 1208.0,341.7 1209.7,341.8 1211.5,341.8 1213.2,341.9 1214.9,341.9 1216.6,342.0 1218.3,342.0 1220.0,342.0 1221.8,342.1 1223.5,342.1 1225.2,342.2 1226.9,342.2 1228.6,342.3 1230.3,342.3 1232.1,342.4 1233.8,342.4 1235.5,342.4 1237.2,342.5 1238.9,342.5 1240.6,342.6 1242.4,342.6 1244.1,342.7 1245.8,342.7 1247.5,342.8 1249.2,342.8 1251.0,342.9 1252.7,342.9 1254.4,343.0 1256.1,343.1 1257.8,343.1 1259.5,343.2 1261.3,343.2 1263.0,343.3 1264.7,343.4 1266.4,343.4 1268.1,343.5 1269.8,343.6 1271.6,343.6 1273.3,343.7 1275.0,343.8 1276.7,343.8 1278.4,343.9 1280.2,344.0 1281.9,344.1 1283.6,344.2 1285.3,344.2 1287.0,344.3 1288.7,344.4 1290.5,344.5 1292.2,344.6 1293.9,344.7 1295.6,344.8 1297.3,345.0 1299.0,345.1 1300.8,345.3 1302.5,345.4 1304.2,345.6 1305.9,345.8 1307.6,346.0 1309.4,346.2 1311.1,346.4 1312.8,346.5 1314.5,346.7 1316.2,346.9 1317.9,347.1 1319.7,347.3 1321.4,347.5 1323.1,347.7 1324.8,347.9 1326.5,348.1 1328.2,348.3 1330.0,348.5 1331.7,348.6 1333.4,348.8 1335.1,349.1 1336.8,349.3 1338.6,349.5 1340.3,349.7 1342.0,350.0 1343.7,350.2 1345.4,350.4 1347.1,350.5 1348.9,350.7 1350.6,350.8 1352.3,350.9 1354.0,350.9 1355.7,350.9 1357.4,350.8 1359.2,350.7 1360.9,350.6 1362.6,350.4 1364.3,350.2 1366.0,350.0 1367.8,349.8 1369.5,349.5 1371.2,349.2 1372.9,349.0 1374.6,348.7 1376.3,348.5 1378.1,348.2 1379.8,348.0 1381.5,347.8 1383.2,347.6 1384.9,347.4 1386.6,347.2 1388.4,346.9 1390.1,346.7 1391.8,346.4 1393.5,346.2 1395.2,346.0 1396.9,345.7 1398.7,345.5 1400.4,345.3 1402.1,345.1 1403.8,344.9 1405.5,344.7 1407.3,344.5 1409.0,344.3 1410.7,344.2 1412.4,344.0 1414.1,343.9 1415.8,343.7 1417.6,343.6 1419.3,343.4 1421.0,343.3 1422.7,343.1 1424.4,343.0 1426.1,342.9 1427.9,342.7 1429.6,342.6 1431.3,342.5 1433.0,342.4 1434.7,342.2 1436.5,342.1 1438.2,342.0 1439.9,341.9 1441.6,341.8 1443.3,341.7 1445.0,341.6 1446.8,341.5 1448.5,341.5 1450.2,341.4 1451.9,341.3 1453.6,341.3 1455.3,341.2 1457.1,341.2 1458.8,341.1 1460.5,341.1 1462.2,341.0 1463.9,341.0 1465.7,341.0 1467.4,340.9 1469.1,340.9 1470.8,340.9 1472.5,340.8 1474.2,340.8 1476.0,340.8 1477.7,340.7 1479.4,340.7 1481.1,340.7 1482.8,340.7 1484.5,340.6 1486.3,340.6 1488.0,340.6 1489.7,340.6 1491.4,340.5 1493.1,340.5 1494.9,340.5 1496.6,340.5 1498.3,340.4 1500.0,340.4 1501.7,340.4 1503.4,340.4 1505.2,340.3 1506.9,340.3 1508.6,340.3 1510.3,340.3 1512.0,340.2 1513.7,340.2 1515.5,340.2 1517.2,340.1 1518.9,340.1 1520.6,340.1 1522.3,340.1 1524.1,340.0 1525.8,340.0 1527.5,340.0 1529.2,340.0 1530.9,339.9 1532.6,339.9 1534.4,339.9 1536.1,339.9 1537.8,339.9 1539.5,339.8 1541.2,339.8 1542.9,339.8 1544.7,339.8 1546.4,339.8 1548.1,339.8 1549.8,339.8 1551.5,339.8 1553.3,339.8 1555.0,339.8 1556.7,339.8 1558.4,339.8 1560.1,339.8 1561.8,339.8 1563.6,339.8 1565.3,339.8 1567.0,339.7 1568.7,339.7 1570.4,339.7 1572.1,339.7 1573.9,339.7 1575.6,339.7 1577.3,339.7 1579.0,339.7 1580.7,339.7 1582.4,339.7 1584.2,339.7 1585.9,339.7 1587.6,339.7 1589.3,339.7 1591.0,339.7 1592.8,339.7 1594.5,339.7 1596.2,339.7 1597.9,339.7 1599.6,339.7 1601.3,339.7 1603.1,339.7 1604.8,339.7 1606.5,339.7 1608.2,339.7 1609.9,339.7 1611.6,339.7" fill="none" stroke="#1818a8" stroke-width="3.4" stroke-linejoin="round"/>
<path d="M1053.1,391.3 1054.9,391.3 1056.7,391.4 1058.5,391.4 1060.3,391.5 1062.1,391.5 1063.9,391.6 1065.7,391.6 1067.5,391.7 1069.3,391.7 1071.1,391.8 1072.9,391.8 1074.6,391.9 1076.4,391.9 1078.2,392.0 1080.0,392.0 1081.8,392.1 1083.6,392.1 1085.4,392.1 1087.2,392.2 1089.0,392.2 1090.8,392.3 1092.6,392.3 1094.4,392.4 1096.2,392.4 1097.9,392.5 1099.7,392.5 1101.5,392.5 1103.3,392.6 1105.1,392.6 1106.9,392.7 1108.7,392.7 1110.5,392.8 1112.3,392.8 1114.1,392.8 1115.9,392.9 1117.7,392.9 1119.5,393.0 1121.2,393.0 1123.0,393.0 1124.8,393.1 1126.6,393.1 1128.4,393.2 1130.2,393.2 1132.0,393.2 1133.8,393.3 1135.6,393.3 1137.4,393.4 1139.2,393.4 1141.0,393.4 1142.8,393.5 1144.5,393.5 1146.3,393.5 1148.1,393.5 1149.9,393.6 1151.7,393.6 1153.5,393.6 1155.3,393.7 1157.1,393.7 1158.9,393.7 1160.7,393.8 1162.5,393.8 1164.3,393.8 1166.1,393.8 1167.9,393.9 1169.6,393.9 1171.4,393.9 1173.2,394.0 1175.0,394.0 1176.8,394.0 1178.6,394.1 1180.4,394.1 1182.2,394.1 1184.0,394.2 1185.8,394.2 1187.6,394.2 1189.4,394.3 1191.2,394.3 1192.9,394.3 1194.7,394.4 1196.5,394.4 1198.3,394.5 1200.1,394.5 1201.9,394.6 1203.7,394.6 1205.5,394.7 1207.3,394.7 1209.1,394.8 1210.9,394.8 1212.7,394.9 1214.5,394.9 1216.2,395.0 1218.0,395.1 1219.8,395.2 1221.6,395.2 1223.4,395.3 1225.2,395.4 1227.0,395.5 1228.8,395.6 1230.6,395.7 1232.4,395.8 1234.2,395.9 1236.0,396.0 1237.8,396.1 1239.6,396.2 1241.3,396.3 1243.1,396.4 1244.9,396.6 1246.7,396.7 1248.5,396.8 1250.3,396.9 1252.1,397.1 1253.9,397.2 1255.7,397.3 1257.5,397.5 1259.3,397.6 1261.1,397.7 1262.9,397.9 1264.6,398.0 1266.4,398.2 1268.2,398.3 1270.0,398.4 1271.8,398.6 1273.6,398.7 1275.4,398.9 1277.2,399.0 1279.0,399.2 1280.8,399.4 1282.6,399.6 1284.4,399.8 1286.2,400.0 1287.9,400.2 1289.7,400.4 1291.5,400.6 1293.3,400.9 1295.1,401.1 1296.9,401.5 1298.7,401.8 1300.5,402.1 1302.3,402.4 1304.1,402.7 1305.9,403.0 1307.7,403.2 1309.5,403.4 1311.2,403.6 1313.0,403.7 1314.8,403.7 1316.6,403.6 1318.4,403.5 1320.2,403.4 1322.0,403.3 1323.8,403.2 1325.6,403.1 1327.4,402.9 1329.2,402.8 1331.0,402.6 1332.8,402.5 1334.6,402.3 1336.3,402.1 1338.1,401.9 1339.9,401.8 1341.7,401.6 1343.5,401.4 1345.3,401.2 1347.1,401.0 1348.9,400.8 1350.7,400.6 1352.5,400.4 1354.3,400.3 1356.1,400.1 1357.9,399.9 1359.6,399.7 1361.4,399.5 1363.2,399.4 1365.0,399.2 1366.8,399.1 1368.6,398.9 1370.4,398.8 1372.2,398.6 1374.0,398.5 1375.8,398.4 1377.6,398.3 1379.4,398.1 1381.2,398.0 1382.9,397.9 1384.7,397.7 1386.5,397.6 1388.3,397.5 1390.1,397.4 1391.9,397.2 1393.7,397.1 1395.5,397.0 1397.3,396.9 1399.1,396.8 1400.9,396.6 1402.7,396.5 1404.5,396.4 1406.2,396.3 1408.0,396.2 1409.8,396.1 1411.6,396.0 1413.4,395.9 1415.2,395.7 1417.0,395.6 1418.8,395.5 1420.6,395.4 1422.4,395.3 1424.2,395.2 1426.0,395.1 1427.8,395.0 1429.6,394.9 1431.3,394.9 1433.1,394.8 1434.9,394.7 1436.7,394.6 1438.5,394.5 1440.3,394.4 1442.1,394.3 1443.9,394.3 1445.7,394.2 1447.5,394.1 1449.3,394.0 1451.1,394.0 1452.9,393.9 1454.6,393.8 1456.4,393.8 1458.2,393.7 1460.0,393.6 1461.8,393.6 1463.6,393.5 1465.4,393.4 1467.2,393.4 1469.0,393.3 1470.8,393.2 1472.6,393.2 1474.4,393.1 1476.2,393.0 1477.9,393.0 1479.7,392.9 1481.5,392.9 1483.3,392.8 1485.1,392.7 1486.9,392.7 1488.7,392.6 1490.5,392.6 1492.3,392.5 1494.1,392.4 1495.9,392.4 1497.7,392.3 1499.5,392.3 1501.3,392.2 1503.0,392.2 1504.8,392.1 1506.6,392.1 1508.4,392.0 1510.2,392.0 1512.0,391.9 1513.8,391.9 1515.6,391.8 1517.4,391.8 1519.2,391.7 1521.0,391.7 1522.8,391.6 1524.6,391.6 1526.3,391.5 1528.1,391.5 1529.9,391.5 1531.7,391.4 1533.5,391.4 1535.3,391.3 1537.1,391.3 1538.9,391.3 1540.7,391.2 1542.5,391.2 1544.3,391.2 1546.1,391.1 1547.9,391.1 1549.6,391.1 1551.4,391.0 1553.2,391.0 1555.0,391.0 1556.8,390.9 1558.6,390.9 1560.4,390.9 1562.2,390.9 1564.0,390.8 1565.8,390.8 1567.6,390.8 1569.4,390.8 1571.2,390.8 1572.9,390.7 1574.7,390.7 1576.5,390.7 1578.3,390.7 1580.1,390.7 1581.9,390.7 1583.7,390.6 1585.5,390.6 1587.3,390.6 1589.1,390.6" fill="none" stroke="#ffffff" stroke-opacity="0.75" stroke-width="5.8" stroke-linejoin="round"/>
<path d="M1053.1,391.3 1054.9,391.3 1056.7,391.4 1058.5,391.4 1060.3,391.5 1062.1,391.5 1063.9,391.6 1065.7,391.6 1067.5,391.7 1069.3,391.7 1071.1,391.8 1072.9,391.8 1074.6,391.9 1076.4,391.9 1078.2,392.0 1080.0,392.0 1081.8,392.1 1083.6,392.1 1085.4,392.1 1087.2,392.2 1089.0,392.2 1090.8,392.3 1092.6,392.3 1094.4,392.4 1096.2,392.4 1097.9,392.5 1099.7,392.5 1101.5,392.5 1103.3,392.6 1105.1,392.6 1106.9,392.7 1108.7,392.7 1110.5,392.8 1112.3,392.8 1114.1,392.8 1115.9,392.9 1117.7,392.9 1119.5,393.0 1121.2,393.0 1123.0,393.0 1124.8,393.1 1126.6,393.1 1128.4,393.2 1130.2,393.2 1132.0,393.2 1133.8,393.3 1135.6,393.3 1137.4,393.4 1139.2,393.4 1141.0,393.4 1142.8,393.5 1144.5,393.5 1146.3,393.5 1148.1,393.5 1149.9,393.6 1151.7,393.6 1153.5,393.6 1155.3,393.7 1157.1,393.7 1158.9,393.7 1160.7,393.8 1162.5,393.8 1164.3,393.8 1166.1,393.8 1167.9,393.9 1169.6,393.9 1171.4,393.9 1173.2,394.0 1175.0,394.0 1176.8,394.0 1178.6,394.1 1180.4,394.1 1182.2,394.1 1184.0,394.2 1185.8,394.2 1187.6,394.2 1189.4,394.3 1191.2,394.3 1192.9,394.3 1194.7,394.4 1196.5,394.4 1198.3,394.5 1200.1,394.5 1201.9,394.6 1203.7,394.6 1205.5,394.7 1207.3,394.7 1209.1,394.8 1210.9,394.8 1212.7,394.9 1214.5,394.9 1216.2,395.0 1218.0,395.1 1219.8,395.2 1221.6,395.2 1223.4,395.3 1225.2,395.4 1227.0,395.5 1228.8,395.6 1230.6,395.7 1232.4,395.8 1234.2,395.9 1236.0,396.0 1237.8,396.1 1239.6,396.2 1241.3,396.3 1243.1,396.4 1244.9,396.6 1246.7,396.7 1248.5,396.8 1250.3,396.9 1252.1,397.1 1253.9,397.2 1255.7,397.3 1257.5,397.5 1259.3,397.6 1261.1,397.7 1262.9,397.9 1264.6,398.0 1266.4,398.2 1268.2,398.3 1270.0,398.4 1271.8,398.6 1273.6,398.7 1275.4,398.9 1277.2,399.0 1279.0,399.2 1280.8,399.4 1282.6,399.6 1284.4,399.8 1286.2,400.0 1287.9,400.2 1289.7,400.4 1291.5,400.6 1293.3,400.9 1295.1,401.1 1296.9,401.5 1298.7,401.8 1300.5,402.1 1302.3,402.4 1304.1,402.7 1305.9,403.0 1307.7,403.2 1309.5,403.4 1311.2,403.6 1313.0,403.7 1314.8,403.7 1316.6,403.6 1318.4,403.5 1320.2,403.4 1322.0,403.3 1323.8,403.2 1325.6,403.1 1327.4,402.9 1329.2,402.8 1331.0,402.6 1332.8,402.5 1334.6,402.3 1336.3,402.1 1338.1,401.9 1339.9,401.8 1341.7,401.6 1343.5,401.4 1345.3,401.2 1347.1,401.0 1348.9,400.8 1350.7,400.6 1352.5,400.4 1354.3,400.3 1356.1,400.1 1357.9,399.9 1359.6,399.7 1361.4,399.5 1363.2,399.4 1365.0,399.2 1366.8,399.1 1368.6,398.9 1370.4,398.8 1372.2,398.6 1374.0,398.5 1375.8,398.4 1377.6,398.3 1379.4,398.1 1381.2,398.0 1382.9,397.9 1384.7,397.7 1386.5,397.6 1388.3,397.5 1390.1,397.4 1391.9,397.2 1393.7,397.1 1395.5,397.0 1397.3,396.9 1399.1,396.8 1400.9,396.6 1402.7,396.5 1404.5,396.4 1406.2,396.3 1408.0,396.2 1409.8,396.1 1411.6,396.0 1413.4,395.9 1415.2,395.7 1417.0,395.6 1418.8,395.5 1420.6,395.4 1422.4,395.3 1424.2,395.2 1426.0,395.1 1427.8,395.0 1429.6,394.9 1431.3,394.9 1433.1,394.8 1434.9,394.7 1436.7,394.6 1438.5,394.5 1440.3,394.4 1442.1,394.3 1443.9,394.3 1445.7,394.2 1447.5,394.1 1449.3,394.0 1451.1,394.0 1452.9,393.9 1454.6,393.8 1456.4,393.8 1458.2,393.7 1460.0,393.6 1461.8,393.6 1463.6,393.5 1465.4,393.4 1467.2,393.4 1469.0,393.3 1470.8,393.2 1472.6,393.2 1474.4,393.1 1476.2,393.0 1477.9,393.0 1479.7,392.9 1481.5,392.9 1483.3,392.8 1485.1,392.7 1486.9,392.7 1488.7,392.6 1490.5,392.6 1492.3,392.5 1494.1,392.4 1495.9,392.4 1497.7,392.3 1499.5,392.3 1501.3,392.2 1503.0,392.2 1504.8,392.1 1506.6,392.1 1508.4,392.0 1510.2,392.0 1512.0,391.9 1513.8,391.9 1515.6,391.8 1517.4,391.8 1519.2,391.7 1521.0,391.7 1522.8,391.6 1524.6,391.6 1526.3,391.5 1528.1,391.5 1529.9,391.5 1531.7,391.4 1533.5,391.4 1535.3,391.3 1537.1,391.3 1538.9,391.3 1540.7,391.2 1542.5,391.2 1544.3,391.2 1546.1,391.1 1547.9,391.1 1549.6,391.1 1551.4,391.0 1553.2,391.0 1555.0,391.0 1556.8,390.9 1558.6,390.9 1560.4,390.9 1562.2,390.9 1564.0,390.8 1565.8,390.8 1567.6,390.8 1569.4,390.8 1571.2,390.8 1572.9,390.7 1574.7,390.7 1576.5,390.7 1578.3,390.7 1580.1,390.7 1581.9,390.7 1583.7,390.6 1585.5,390.6 1587.3,390.6 1589.1,390.6" fill="none" stroke="#1a1aff" stroke-width="3.4" stroke-linejoin="round"/>
<path d="M1004.1,450.0 1006.0,450.0 1007.8,450.0 1009.7,450.0 1011.6,450.0 1013.5,450.0 1015.3,450.0 1017.2,450.0 1019.1,450.0 1020.9,450.0 1022.8,450.0 1024.7,450.0 1026.6,450.0 1028.4,450.0 1030.3,450.0 1032.2,450.0 1034.1,450.0 1035.9,450.1 1037.8,450.1 1039.7,450.1 1041.6,450.1 1043.4,450.1 1045.3,450.1 1047.2,450.1 1049.1,450.1 1050.9,450.1 1052.8,450.1 1054.7,450.1 1056.6,450.1 1058.4,450.2 1060.3,450.2 1062.2,450.2 1064.1,450.2 1065.9,450.2 1067.8,450.3 1069.7,450.3 1071.6,450.3 1073.4,450.4 1075.3,450.4 1077.2,450.4 1079.0,450.5 1080.9,450.5 1082.8,450.5 1084.7,450.6 1086.5,450.6 1088.4,450.7 1090.3,450.7 1092.2,450.7 1094.0,450.8 1095.9,450.8 1097.8,450.9 1099.7,450.9 1101.5,451.0 1103.4,451.0 1105.3,451.1 1107.2,451.1 1109.0,451.2 1110.9,451.2 1112.8,451.3 1114.7,451.3 1116.5,451.4 1118.4,451.4 1120.3,451.5 1122.2,451.5 1124.0,451.6 1125.9,451.6 1127.8,451.6 1129.6,451.7 1131.5,451.7 1133.4,451.8 1135.3,451.8 1137.1,451.9 1139.0,451.9 1140.9,452.0 1142.8,452.0 1144.6,452.1 1146.5,452.1 1148.4,452.1 1150.3,452.2 1152.1,452.2 1154.0,452.3 1155.9,452.3 1157.8,452.4 1159.6,452.4 1161.5,452.5 1163.4,452.5 1165.3,452.6 1167.1,452.6 1169.0,452.7 1170.9,452.7 1172.8,452.8 1174.6,452.8 1176.5,452.9 1178.4,453.0 1180.3,453.0 1182.1,453.1 1184.0,453.1 1185.9,453.2 1187.7,453.3 1189.6,453.3 1191.5,453.4 1193.4,453.4 1195.2,453.5 1197.1,453.6 1199.0,453.6 1200.9,453.7 1202.7,453.8 1204.6,453.9 1206.5,453.9 1208.4,454.0 1210.2,454.1 1212.1,454.2 1214.0,454.3 1215.9,454.3 1217.7,454.4 1219.6,454.5 1221.5,454.6 1223.4,454.7 1225.2,454.8 1227.1,454.9 1229.0,455.0 1230.9,455.2 1232.7,455.3 1234.6,455.4 1236.5,455.5 1238.4,455.6 1240.2,455.8 1242.1,455.9 1244.0,456.1 1245.8,456.2 1247.7,456.4 1249.6,456.5 1251.5,456.7 1253.3,456.8 1255.2,457.0 1257.1,457.2 1259.0,457.4 1260.8,457.6 1262.7,457.9 1264.6,458.2 1266.5,458.5 1268.3,458.9 1270.2,459.2 1272.1,459.6 1274.0,459.9 1275.8,460.3 1277.7,460.5 1279.6,460.8 1281.5,460.9 1283.3,461.1 1285.2,461.2 1287.1,461.2 1289.0,461.3 1290.8,461.3 1292.7,461.2 1294.6,461.1 1296.4,460.9 1298.3,460.6 1300.2,460.3 1302.1,459.9 1303.9,459.5 1305.8,459.1 1307.7,458.7 1309.6,458.3 1311.4,457.9 1313.3,457.6 1315.2,457.2 1317.1,456.9 1318.9,456.6 1320.8,456.4 1322.7,456.2 1324.6,456.0 1326.4,455.8 1328.3,455.7 1330.2,455.5 1332.1,455.3 1333.9,455.2 1335.8,455.0 1337.7,454.9 1339.6,454.8 1341.4,454.7 1343.3,454.6 1345.2,454.5 1347.1,454.4 1348.9,454.3 1350.8,454.2 1352.7,454.1 1354.5,454.0 1356.4,453.9 1358.3,453.8 1360.2,453.7 1362.0,453.7 1363.9,453.6 1365.8,453.5 1367.7,453.4 1369.5,453.3 1371.4,453.3 1373.3,453.2 1375.2,453.1 1377.0,453.0 1378.9,453.0 1380.8,452.9 1382.7,452.8 1384.5,452.8 1386.4,452.7 1388.3,452.6 1390.2,452.6 1392.0,452.5 1393.9,452.4 1395.8,452.4 1397.7,452.3 1399.5,452.3 1401.4,452.2 1403.3,452.1 1405.2,452.1 1407.0,452.0 1408.9,452.0 1410.8,451.9 1412.6,451.9 1414.5,451.8 1416.4,451.8 1418.3,451.7 1420.1,451.6 1422.0,451.6 1423.9,451.5 1425.8,451.5 1427.6,451.4 1429.5,451.4 1431.4,451.3 1433.3,451.3 1435.1,451.2 1437.0,451.2 1438.9,451.1 1440.8,451.1 1442.6,451.0 1444.5,451.0 1446.4,451.0 1448.3,450.9 1450.1,450.9 1452.0,450.8 1453.9,450.8 1455.8,450.7 1457.6,450.7 1459.5,450.6 1461.4,450.6 1463.3,450.6 1465.1,450.5 1467.0,450.5 1468.9,450.4 1470.7,450.4 1472.6,450.4 1474.5,450.3 1476.4,450.3 1478.2,450.2 1480.1,450.2 1482.0,450.2 1483.9,450.1 1485.7,450.1 1487.6,450.1 1489.5,450.0 1491.4,450.0 1493.2,449.9 1495.1,449.9 1497.0,449.9 1498.9,449.8 1500.7,449.8 1502.6,449.8 1504.5,449.7 1506.4,449.7 1508.2,449.7 1510.1,449.6 1512.0,449.6 1513.9,449.5 1515.7,449.5 1517.6,449.5 1519.5,449.4 1521.3,449.4 1523.2,449.4 1525.1,449.3 1527.0,449.3 1528.8,449.2 1530.7,449.2 1532.6,449.2 1534.5,449.1 1536.3,449.1 1538.2,449.1 1540.1,449.0 1542.0,449.0 1543.8,448.9 1545.7,448.9 1547.6,448.9 1549.5,448.8 1551.3,448.8 1553.2,448.7 1555.1,448.7 1557.0,448.7 1558.8,448.6 1560.7,448.6 1562.6,448.5 1564.5,448.5" fill="none" stroke="#ffffff" stroke-opacity="0.75" stroke-width="5.8" stroke-linejoin="round"/>
<path d="M1004.1,450.0 1006.0,450.0 1007.8,450.0 1009.7,450.0 1011.6,450.0 1013.5,450.0 1015.3,450.0 1017.2,450.0 1019.1,450.0 1020.9,450.0 1022.8,450.0 1024.7,450.0 1026.6,450.0 1028.4,450.0 1030.3,450.0 1032.2,450.0 1034.1,450.0 1035.9,450.1 1037.8,450.1 1039.7,450.1 1041.6,450.1 1043.4,450.1 1045.3,450.1 1047.2,450.1 1049.1,450.1 1050.9,450.1 1052.8,450.1 1054.7,450.1 1056.6,450.1 1058.4,450.2 1060.3,450.2 1062.2,450.2 1064.1,450.2 1065.9,450.2 1067.8,450.3 1069.7,450.3 1071.6,450.3 1073.4,450.4 1075.3,450.4 1077.2,450.4 1079.0,450.5 1080.9,450.5 1082.8,450.5 1084.7,450.6 1086.5,450.6 1088.4,450.7 1090.3,450.7 1092.2,450.7 1094.0,450.8 1095.9,450.8 1097.8,450.9 1099.7,450.9 1101.5,451.0 1103.4,451.0 1105.3,451.1 1107.2,451.1 1109.0,451.2 1110.9,451.2 1112.8,451.3 1114.7,451.3 1116.5,451.4 1118.4,451.4 1120.3,451.5 1122.2,451.5 1124.0,451.6 1125.9,451.6 1127.8,451.6 1129.6,451.7 1131.5,451.7 1133.4,451.8 1135.3,451.8 1137.1,451.9 1139.0,451.9 1140.9,452.0 1142.8,452.0 1144.6,452.1 1146.5,452.1 1148.4,452.1 1150.3,452.2 1152.1,452.2 1154.0,452.3 1155.9,452.3 1157.8,452.4 1159.6,452.4 1161.5,452.5 1163.4,452.5 1165.3,452.6 1167.1,452.6 1169.0,452.7 1170.9,452.7 1172.8,452.8 1174.6,452.8 1176.5,452.9 1178.4,453.0 1180.3,453.0 1182.1,453.1 1184.0,453.1 1185.9,453.2 1187.7,453.3 1189.6,453.3 1191.5,453.4 1193.4,453.4 1195.2,453.5 1197.1,453.6 1199.0,453.6 1200.9,453.7 1202.7,453.8 1204.6,453.9 1206.5,453.9 1208.4,454.0 1210.2,454.1 1212.1,454.2 1214.0,454.3 1215.9,454.3 1217.7,454.4 1219.6,454.5 1221.5,454.6 1223.4,454.7 1225.2,454.8 1227.1,454.9 1229.0,455.0 1230.9,455.2 1232.7,455.3 1234.6,455.4 1236.5,455.5 1238.4,455.6 1240.2,455.8 1242.1,455.9 1244.0,456.1 1245.8,456.2 1247.7,456.4 1249.6,456.5 1251.5,456.7 1253.3,456.8 1255.2,457.0 1257.1,457.2 1259.0,457.4 1260.8,457.6 1262.7,457.9 1264.6,458.2 1266.5,458.5 1268.3,458.9 1270.2,459.2 1272.1,459.6 1274.0,459.9 1275.8,460.3 1277.7,460.5 1279.6,460.8 1281.5,460.9 1283.3,461.1 1285.2,461.2 1287.1,461.2 1289.0,461.3 1290.8,461.3 1292.7,461.2 1294.6,461.1 1296.4,460.9 1298.3,460.6 1300.2,460.3 1302.1,459.9 1303.9,459.5 1305.8,459.1 1307.7,458.7 1309.6,458.3 1311.4,457.9 1313.3,457.6 1315.2,457.2 1317.1,456.9 1318.9,456.6 1320.8,456.4 1322.7,456.2 1324.6,456.0 1326.4,455.8 1328.3,455.7 1330.2,455.5 1332.1,455.3 1333.9,455.2 1335.8,455.0 1337.7,454.9 1339.6,454.8 1341.4,454.7 1343.3,454.6 1345.2,454.5 1347.1,454.4 1348.9,454.3 1350.8,454.2 1352.7,454.1 1354.5,454.0 1356.4,453.9 1358.3,453.8 1360.2,453.7 1362.0,453.7 1363.9,453.6 1365.8,453.5 1367.7,453.4 1369.5,453.3 1371.4,453.3 1373.3,453.2 1375.2,453.1 1377.0,453.0 1378.9,453.0 1380.8,452.9 1382.7,452.8 1384.5,452.8 1386.4,452.7 1388.3,452.6 1390.2,452.6 1392.0,452.5 1393.9,452.4 1395.8,452.4 1397.7,452.3 1399.5,452.3 1401.4,452.2 1403.3,452.1 1405.2,452.1 1407.0,452.0 1408.9,452.0 1410.8,451.9 1412.6,451.9 1414.5,451.8 1416.4,451.8 1418.3,451.7 1420.1,451.6 1422.0,451.6 1423.9,451.5 1425.8,451.5 1427.6,451.4 1429.5,451.4 1431.4,451.3 1433.3,451.3 1435.1,451.2 1437.0,451.2 1438.9,451.1 1440.8,451.1 1442.6,451.0 1444.5,451.0 1446.4,451.0 1448.3,450.9 1450.1,450.9 1452.0,450.8 1453.9,450.8 1455.8,450.7 1457.6,450.7 1459.5,450.6 1461.4,450.6 1463.3,450.6 1465.1,450.5 1467.0,450.5 1468.9,450.4 1470.7,450.4 1472.6,450.4 1474.5,450.3 1476.4,450.3 1478.2,450.2 1480.1,450.2 1482.0,450.2 1483.9,450.1 1485.7,450.1 1487.6,450.1 1489.5,450.0 1491.4,450.0 1493.2,449.9 1495.1,449.9 1497.0,449.9 1498.9,449.8 1500.7,449.8 1502.6,449.8 1504.5,449.7 1506.4,449.7 1508.2,449.7 1510.1,449.6 1512.0,449.6 1513.9,449.5 1515.7,449.5 1517.6,449.5 1519.5,449.4 1521.3,449.4 1523.2,449.4 1525.1,449.3 1527.0,449.3 1528.8,449.2 1530.7,449.2 1532.6,449.2 1534.5,449.1 1536.3,449.1 1538.2,449.1 1540.1,449.0 1542.0,449.0 1543.8,448.9 1545.7,448.9 1547.6,448.9 1549.5,448.8 1551.3,448.8 1553.2,448.7 1555.1,448.7 1557.0,448.7 1558.8,448.6 1560.7,448.6 1562.6,448.5 1564.5,448.5" fill="none" stroke="#ff1a1a" stroke-width="3.4" stroke-linejoin="round"/>
<path d="M950.3,509.8 952.3,509.8 954.3,509.9 956.2,509.9 958.2,509.9 960.2,510.0 962.1,510.0 964.1,510.1 966.1,510.1 968.0,510.1 970.0,510.2 971.9,510.2 973.9,510.3 975.9,510.3 977.8,510.3 979.8,510.4 981.8,510.4 983.7,510.5 985.7,510.5 987.7,510.5 989.6,510.6 991.6,510.6 993.5,510.7 995.5,510.7 997.5,510.7 999.4,510.8 1001.4,510.8 1003.4,510.9 1005.3,510.9 1007.3,511.0 1009.3,511.0 1011.2,511.0 1013.2,511.1 1015.1,511.1 1017.1,511.2 1019.1,511.2 1021.0,511.3 1023.0,511.3 1025.0,511.3 1026.9,511.4 1028.9,511.4 1030.9,511.5 1032.8,511.5 1034.8,511.6 1036.7,511.6 1038.7,511.6 1040.7,511.7 1042.6,511.7 1044.6,511.8 1046.6,511.8 1048.5,511.8 1050.5,511.9 1052.5,511.9 1054.4,512.0 1056.4,512.0 1058.3,512.1 1060.3,512.1 1062.3,512.1 1064.2,512.2 1066.2,512.2 1068.2,512.3 1070.1,512.3 1072.1,512.4 1074.1,512.4 1076.0,512.5 1078.0,512.5 1079.9,512.5 1081.9,512.6 1083.9,512.6 1085.8,512.7 1087.8,512.7 1089.8,512.8 1091.7,512.8 1093.7,512.9 1095.7,512.9 1097.6,513.0 1099.6,513.0 1101.5,513.1 1103.5,513.1 1105.5,513.2 1107.4,513.2 1109.4,513.3 1111.4,513.4 1113.3,513.4 1115.3,513.5 1117.3,513.5 1119.2,513.6 1121.2,513.6 1123.1,513.7 1125.1,513.8 1127.1,513.8 1129.0,513.9 1131.0,513.9 1133.0,514.0 1134.9,514.0 1136.9,514.1 1138.9,514.2 1140.8,514.2 1142.8,514.3 1144.7,514.3 1146.7,514.4 1148.7,514.5 1150.6,514.5 1152.6,514.6 1154.6,514.7 1156.5,514.7 1158.5,514.8 1160.5,514.9 1162.4,514.9 1164.4,515.0 1166.3,515.1 1168.3,515.2 1170.3,515.3 1172.2,515.4 1174.2,515.4 1176.2,515.5 1178.1,515.6 1180.1,515.7 1182.1,515.8 1184.0,515.9 1186.0,516.0 1187.9,516.1 1189.9,516.2 1191.9,516.4 1193.8,516.5 1195.8,516.6 1197.8,516.8 1199.7,516.9 1201.7,517.1 1203.7,517.3 1205.6,517.5 1207.6,517.7 1209.5,517.9 1211.5,518.1 1213.5,518.3 1215.4,518.6 1217.4,518.8 1219.4,519.1 1221.3,519.4 1223.3,519.8 1225.3,520.2 1227.2,520.7 1229.2,521.1 1231.1,521.6 1233.1,522.0 1235.1,522.5 1237.0,522.8 1239.0,523.2 1241.0,523.5 1242.9,523.7 1244.9,523.8 1246.9,523.6 1248.8,523.4 1250.8,523.1 1252.7,522.8 1254.7,522.4 1256.7,522.0 1258.6,521.6 1260.6,521.2 1262.6,520.7 1264.5,520.3 1266.5,519.8 1268.5,519.4 1270.4,519.0 1272.4,518.7 1274.3,518.4 1276.3,518.2 1278.3,518.0 1280.2,517.8 1282.2,517.6 1284.2,517.4 1286.1,517.2 1288.1,517.1 1290.1,516.9 1292.0,516.7 1294.0,516.6 1295.9,516.5 1297.9,516.3 1299.9,516.2 1301.8,516.1 1303.8,515.9 1305.8,515.8 1307.7,515.7 1309.7,515.6 1311.7,515.5 1313.6,515.4 1315.6,515.3 1317.5,515.2 1319.5,515.1 1321.5,515.0 1323.4,514.9 1325.4,514.8 1327.4,514.7 1329.3,514.6 1331.3,514.5 1333.3,514.4 1335.2,514.4 1337.2,514.3 1339.1,514.2 1341.1,514.1 1343.1,514.0 1345.0,514.0 1347.0,513.9 1349.0,513.8 1350.9,513.7 1352.9,513.7 1354.9,513.6 1356.8,513.5 1358.8,513.4 1360.7,513.4 1362.7,513.3 1364.7,513.2 1366.6,513.2 1368.6,513.1 1370.6,513.1 1372.5,513.0 1374.5,512.9 1376.5,512.9 1378.4,512.8 1380.4,512.8 1382.3,512.7 1384.3,512.7 1386.3,512.6 1388.2,512.6 1390.2,512.5 1392.2,512.4 1394.1,512.4 1396.1,512.3 1398.1,512.3 1400.0,512.3 1402.0,512.2 1403.9,512.2 1405.9,512.1 1407.9,512.1 1409.8,512.0 1411.8,512.0 1413.8,511.9 1415.7,511.9 1417.7,511.8 1419.7,511.8 1421.6,511.7 1423.6,511.7 1425.5,511.7 1427.5,511.6 1429.5,511.6 1431.4,511.5 1433.4,511.5 1435.4,511.4 1437.3,511.4 1439.3,511.4 1441.3,511.3 1443.2,511.3 1445.2,511.2 1447.1,511.2 1449.1,511.1 1451.1,511.1 1453.0,511.1 1455.0,511.0 1457.0,511.0 1458.9,510.9 1460.9,510.9 1462.9,510.9 1464.8,510.8 1466.8,510.8 1468.8,510.8 1470.7,510.7 1472.7,510.7 1474.6,510.7 1476.6,510.6 1478.6,510.6 1480.5,510.5 1482.5,510.5 1484.5,510.5 1486.4,510.4 1488.4,510.4 1490.4,510.4 1492.3,510.3 1494.3,510.3 1496.2,510.3 1498.2,510.3 1500.2,510.2 1502.1,510.2 1504.1,510.2 1506.1,510.1 1508.0,510.1 1510.0,510.1 1512.0,510.1 1513.9,510.0 1515.9,510.0 1517.8,510.0 1519.8,510.0 1521.8,509.9 1523.7,509.9 1525.7,509.9 1527.7,509.9 1529.6,509.9 1531.6,509.8 1533.6,509.8 1535.5,509.8 1537.5,509.8" fill="none" stroke="#ffffff" stroke-opacity="0.75" stroke-width="5.4" stroke-linejoin="round"/>
<path d="M950.3,509.8 952.3,509.8 954.3,509.9 956.2,509.9 958.2,509.9 960.2,510.0 962.1,510.0 964.1,510.1 966.1,510.1 968.0,510.1 970.0,510.2 971.9,510.2 973.9,510.3 975.9,510.3 977.8,510.3 979.8,510.4 981.8,510.4 983.7,510.5 985.7,510.5 987.7,510.5 989.6,510.6 991.6,510.6 993.5,510.7 995.5,510.7 997.5,510.7 999.4,510.8 1001.4,510.8 1003.4,510.9 1005.3,510.9 1007.3,511.0 1009.3,511.0 1011.2,511.0 1013.2,511.1 1015.1,511.1 1017.1,511.2 1019.1,511.2 1021.0,511.3 1023.0,511.3 1025.0,511.3 1026.9,511.4 1028.9,511.4 1030.9,511.5 1032.8,511.5 1034.8,511.6 1036.7,511.6 1038.7,511.6 1040.7,511.7 1042.6,511.7 1044.6,511.8 1046.6,511.8 1048.5,511.8 1050.5,511.9 1052.5,511.9 1054.4,512.0 1056.4,512.0 1058.3,512.1 1060.3,512.1 1062.3,512.1 1064.2,512.2 1066.2,512.2 1068.2,512.3 1070.1,512.3 1072.1,512.4 1074.1,512.4 1076.0,512.5 1078.0,512.5 1079.9,512.5 1081.9,512.6 1083.9,512.6 1085.8,512.7 1087.8,512.7 1089.8,512.8 1091.7,512.8 1093.7,512.9 1095.7,512.9 1097.6,513.0 1099.6,513.0 1101.5,513.1 1103.5,513.1 1105.5,513.2 1107.4,513.2 1109.4,513.3 1111.4,513.4 1113.3,513.4 1115.3,513.5 1117.3,513.5 1119.2,513.6 1121.2,513.6 1123.1,513.7 1125.1,513.8 1127.1,513.8 1129.0,513.9 1131.0,513.9 1133.0,514.0 1134.9,514.0 1136.9,514.1 1138.9,514.2 1140.8,514.2 1142.8,514.3 1144.7,514.3 1146.7,514.4 1148.7,514.5 1150.6,514.5 1152.6,514.6 1154.6,514.7 1156.5,514.7 1158.5,514.8 1160.5,514.9 1162.4,514.9 1164.4,515.0 1166.3,515.1 1168.3,515.2 1170.3,515.3 1172.2,515.4 1174.2,515.4 1176.2,515.5 1178.1,515.6 1180.1,515.7 1182.1,515.8 1184.0,515.9 1186.0,516.0 1187.9,516.1 1189.9,516.2 1191.9,516.4 1193.8,516.5 1195.8,516.6 1197.8,516.8 1199.7,516.9 1201.7,517.1 1203.7,517.3 1205.6,517.5 1207.6,517.7 1209.5,517.9 1211.5,518.1 1213.5,518.3 1215.4,518.6 1217.4,518.8 1219.4,519.1 1221.3,519.4 1223.3,519.8 1225.3,520.2 1227.2,520.7 1229.2,521.1 1231.1,521.6 1233.1,522.0 1235.1,522.5 1237.0,522.8 1239.0,523.2 1241.0,523.5 1242.9,523.7 1244.9,523.8 1246.9,523.6 1248.8,523.4 1250.8,523.1 1252.7,522.8 1254.7,522.4 1256.7,522.0 1258.6,521.6 1260.6,521.2 1262.6,520.7 1264.5,520.3 1266.5,519.8 1268.5,519.4 1270.4,519.0 1272.4,518.7 1274.3,518.4 1276.3,518.2 1278.3,518.0 1280.2,517.8 1282.2,517.6 1284.2,517.4 1286.1,517.2 1288.1,517.1 1290.1,516.9 1292.0,516.7 1294.0,516.6 1295.9,516.5 1297.9,516.3 1299.9,516.2 1301.8,516.1 1303.8,515.9 1305.8,515.8 1307.7,515.7 1309.7,515.6 1311.7,515.5 1313.6,515.4 1315.6,515.3 1317.5,515.2 1319.5,515.1 1321.5,515.0 1323.4,514.9 1325.4,514.8 1327.4,514.7 1329.3,514.6 1331.3,514.5 1333.3,514.4 1335.2,514.4 1337.2,514.3 1339.1,514.2 1341.1,514.1 1343.1,514.0 1345.0,514.0 1347.0,513.9 1349.0,513.8 1350.9,513.7 1352.9,513.7 1354.9,513.6 1356.8,513.5 1358.8,513.4 1360.7,513.4 1362.7,513.3 1364.7,513.2 1366.6,513.2 1368.6,513.1 1370.6,513.1 1372.5,513.0 1374.5,512.9 1376.5,512.9 1378.4,512.8 1380.4,512.8 1382.3,512.7 1384.3,512.7 1386.3,512.6 1388.2,512.6 1390.2,512.5 1392.2,512.4 1394.1,512.4 1396.1,512.3 1398.1,512.3 1400.0,512.3 1402.0,512.2 1403.9,512.2 1405.9,512.1 1407.9,512.1 1409.8,512.0 1411.8,512.0 1413.8,511.9 1415.7,511.9 1417.7,511.8 1419.7,511.8 1421.6,511.7 1423.6,511.7 1425.5,511.7 1427.5,511.6 1429.5,511.6 1431.4,511.5 1433.4,511.5 1435.4,511.4 1437.3,511.4 1439.3,511.4 1441.3,511.3 1443.2,511.3 1445.2,511.2 1447.1,511.2 1449.1,511.1 1451.1,511.1 1453.0,511.1 1455.0,511.0 1457.0,511.0 1458.9,510.9 1460.9,510.9 1462.9,510.9 1464.8,510.8 1466.8,510.8 1468.8,510.8 1470.7,510.7 1472.7,510.7 1474.6,510.7 1476.6,510.6 1478.6,510.6 1480.5,510.5 1482.5,510.5 1484.5,510.5 1486.4,510.4 1488.4,510.4 1490.4,510.4 1492.3,510.3 1494.3,510.3 1496.2,510.3 1498.2,510.3 1500.2,510.2 1502.1,510.2 1504.1,510.2 1506.1,510.1 1508.0,510.1 1510.0,510.1 1512.0,510.1 1513.9,510.0 1515.9,510.0 1517.8,510.0 1519.8,510.0 1521.8,509.9 1523.7,509.9 1525.7,509.9 1527.7,509.9 1529.6,509.9 1531.6,509.8 1533.6,509.8 1535.5,509.8 1537.5,509.8" fill="none" stroke="#111111" stroke-width="3.0" stroke-linejoin="round"/>
<text x="898.97" y="615" font-size="28.87" fill="#111111">5052Al surface from the midpoint of the distance <tspan font-style="italic">L</tspan>/μm</text>
<text transform="translate(873.2,497.6) rotate(-90)" font-size="28.9" fill="#111111">Pressure <tspan font-style="italic">P</tspan>/MPa</text>
<text transform="matrix(0.2695,-0.7396,0.9475,0,1640.54,489.96)" font-size="32" fill="#111111">S</text>
<text transform="matrix(0.2656,-0.7288,0.9406,0,1645.33,476.80)" font-size="32" fill="#111111">t</text>
<text transform="matrix(0.2622,-0.7196,0.9346,0,1647.69,470.32)" font-size="32" fill="#111111">a</text>
<text transform="matrix(0.2589,-0.7106,0.9288,0,1651.42,460.10)" font-size="32" fill="#111111">t</text>
<text transform="matrix(0.2565,-0.7038,0.9243,0,1653.72,453.78)" font-size="32" fill="#111111">i</text>
<text transform="matrix(0.2533,-0.6951,0.9186,0,1656.00,447.53)" font-size="32" fill="#111111">c</text>
<text transform="matrix(0.2459,-0.6750,0.9052,0,1661.60,432.16)" font-size="32" fill="#111111">m</text>
<text transform="matrix(0.2409,-0.6612,0.8959,0,1667.72,415.36)" font-size="32" fill="#111111">a</text>
<text transform="matrix(0.2372,-0.6509,0.8889,0,1671.14,405.97)" font-size="32" fill="#111111">g</text>
<text transform="matrix(0.2333,-0.6402,0.8815,0,1674.94,395.55)" font-size="32" fill="#111111">n</text>
<text transform="matrix(0.2297,-0.6303,0.8747,0,1678.67,385.31)" font-size="32" fill="#111111">e</text>
<text transform="matrix(0.2270,-0.6229,0.8696,0,1681.93,376.35)" font-size="32" fill="#111111">t</text>
<text transform="matrix(0.2250,-0.6174,0.8657,0,1683.95,370.82)" font-size="32" fill="#111111">i</text>
<text transform="matrix(0.2223,-0.6102,0.8606,0,1685.95,365.33)" font-size="32" fill="#111111">c</text>
<text transform="matrix(0.2178,-0.5978,0.8519,0,1690.87,351.83)" font-size="32" fill="#111111">f</text>
<text transform="matrix(0.2157,-0.5921,0.8478,0,1693.19,345.46)" font-size="32" fill="#111111">i</text>
<text transform="matrix(0.2133,-0.5853,0.8429,0,1695.11,340.20)" font-size="32" fill="#111111">e</text>
<text transform="matrix(0.2109,-0.5787,0.8382,0,1698.14,331.88)" font-size="32" fill="#111111">l</text>
<text transform="matrix(0.2083,-0.5717,0.8331,0,1700.01,326.74)" font-size="32" fill="#111111">d</text>
<text transform="matrix(0.2029,-0.5567,0.8220,0,1704.99,313.07)" font-size="32" font-style="italic" fill="#111111">H</text>
<text transform="matrix(0.1998,-0.5482,0.8158,0,1709.68,300.20)" font-size="32" fill="#111111">/</text>
<text transform="matrix(0.1971,-0.5409,0.8103,0,1711.46,295.33)" font-size="32" fill="#111111">T</text>
<text transform="matrix(0.7765,0,0,0.7275,7.31,51.76)" font-size="100" stroke="#000" stroke-width="0.64" fill="#000">(</text>
<text transform="matrix(0.7187,0,0,0.8021,34.04,54.70)" font-size="100" font-weight="bold" fill="#000">a</text>
<text transform="matrix(0.7769,0,0,0.7356,68.37,51.95)" font-size="100" stroke="#000" stroke-width="0.64" fill="#000">)</text>
<text transform="matrix(0.7922,0,0,0.7275,853.24,51.76)" font-size="100" stroke="#000" stroke-width="0.63" fill="#000">(</text>
<text transform="matrix(0.7060,0,0,0.7348,878.94,53.97)" font-size="100" font-weight="bold" fill="#000">b</text>
<text transform="matrix(0.8038,0,0,0.7356,917.89,51.95)" font-size="100" stroke="#000" stroke-width="0.62" fill="#000">)</text>
</svg>
</body></html>
